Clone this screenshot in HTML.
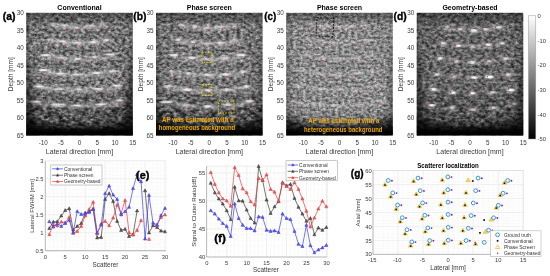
<!DOCTYPE html>
<html lang="en"><head><meta charset="utf-8"><title>Figure</title>
<style>
html,body{margin:0;padding:0;background:#fff;width:550px;height:276px;overflow:hidden}
svg{display:block;font-family:"Liberation Sans", sans-serif}
.t{fill:#3a3a3a}
.L{stroke:#000;stroke-width:.35;paint-order:stroke}
.ax{stroke:#8a8a8a;stroke-width:.6;fill:none}
.gr{stroke:#e9e9e9;stroke-width:.6;fill:none}
.gm{stroke:#f5f5f5;stroke-width:.5;fill:none}
</style></head><body>
<svg width="550" height="276" viewBox="0 0 550 276">
<rect width="550" height="276" fill="#fff"/>
<defs>

<filter id="sp0" x="0" y="0" width="100%" height="100%" color-interpolation-filters="sRGB">
<feTurbulence type="fractalNoise" baseFrequency="0.27 0.38" numOctaves="3" seed="3" result="n0"/>
<feGaussianBlur in="n0" stdDeviation="0.5 0.4" result="n"/>
<feColorMatrix in="n" type="matrix" values="0.88 0 0 0 0.010  0.88 0 0 0 0.010  0.88 0 0 0 0.010  0 0 0 0 1"/>
</filter>
<filter id="sp1" x="0" y="0" width="100%" height="100%" color-interpolation-filters="sRGB">
<feTurbulence type="fractalNoise" baseFrequency="0.27 0.38" numOctaves="3" seed="11" result="n0"/>
<feGaussianBlur in="n0" stdDeviation="0.5 0.4" result="n"/>
<feColorMatrix in="n" type="matrix" values="0.85 0 0 0 0.025  0.85 0 0 0 0.025  0.85 0 0 0 0.025  0 0 0 0 1"/>
</filter>
<filter id="sp2" x="0" y="0" width="100%" height="100%" color-interpolation-filters="sRGB">
<feTurbulence type="fractalNoise" baseFrequency="0.31 0.43" numOctaves="3" seed="23" result="n0"/>
<feGaussianBlur in="n0" stdDeviation="0.5 0.4" result="n"/>
<feColorMatrix in="n" type="matrix" values="0.8 0 0 0 0.130  0.8 0 0 0 0.130  0.8 0 0 0 0.130  0 0 0 0 1"/>
</filter>
<filter id="sp3" x="0" y="0" width="100%" height="100%" color-interpolation-filters="sRGB">
<feTurbulence type="fractalNoise" baseFrequency="0.27 0.38" numOctaves="3" seed="37" result="n0"/>
<feGaussianBlur in="n0" stdDeviation="0.5 0.4" result="n"/>
<feColorMatrix in="n" type="matrix" values="0.75 0 0 0 0.010  0.75 0 0 0 0.010  0.75 0 0 0 0.010  0 0 0 0 1"/>
</filter>
<filter id="dk" x="0" y="0" width="100%" height="100%" color-interpolation-filters="sRGB">
<feTurbulence type="fractalNoise" baseFrequency="0.17 0.26" numOctaves="2" seed="7"/>
<feColorMatrix type="matrix" values="0 0 0 0 0  0 0 0 0 0  0 0 0 0 0  3.0 0 0 0 -1.2"/>
</filter>
<linearGradient id="dkg0" x1="0" y1="0" x2="0" y2="1">
<stop offset="0" stop-color="#fff" stop-opacity="0"/><stop offset="0.6" stop-color="#fff" stop-opacity="0"/>
<stop offset="0.78" stop-color="#fff" stop-opacity="0.7"/><stop offset="1" stop-color="#fff" stop-opacity="0.7"/></linearGradient>
<linearGradient id="dkg2" x1="0" y1="0" x2="0" y2="1">
<stop offset="0" stop-color="#fff" stop-opacity="0"/><stop offset="0.8" stop-color="#fff" stop-opacity="0"/>
<stop offset="0.92" stop-color="#fff" stop-opacity="0.6"/><stop offset="1" stop-color="#fff" stop-opacity="0.8"/></linearGradient>
<linearGradient id="dkg3" x1="0" y1="0" x2="0" y2="1">
<stop offset="0" stop-color="#fff" stop-opacity="0"/><stop offset="0.6" stop-color="#fff" stop-opacity="0"/>
<stop offset="0.78" stop-color="#fff" stop-opacity="0.55"/><stop offset="1" stop-color="#fff" stop-opacity="0.7"/></linearGradient>
<filter id="b1" x="-50%" y="-200%" width="200%" height="500%"><feGaussianBlur stdDeviation="1.5 0.6"/></filter>
<filter id="b2" x="-50%" y="-200%" width="200%" height="500%"><feGaussianBlur stdDeviation="1.0 0.65"/></filter>
<filter id="b4" x="-50%" y="-100%" width="200%" height="300%"><feGaussianBlur stdDeviation="2.5 1.5"/></filter>
<filter id="b5" x="-50%" y="-200%" width="200%" height="500%"><feGaussianBlur stdDeviation="1.2 0.7"/></filter>
<filter id="b3" x="-20%" y="-20%" width="140%" height="140%"><feGaussianBlur stdDeviation="3"/></filter>
<linearGradient id="cb" x1="0" y1="0" x2="0" y2="1"><stop offset="0" stop-color="#fff"/><stop offset="1" stop-color="#000"/></linearGradient>
<linearGradient id="fadeB" x1="0" y1="0" x2="0" y2="1">
<stop offset="0" stop-color="#000" stop-opacity="0"/><stop offset="0.87" stop-color="#000" stop-opacity="0"/>
<stop offset="0.925" stop-color="#000" stop-opacity="0.3"/><stop offset="0.955" stop-color="#000" stop-opacity="0.8"/><stop offset="0.98" stop-color="#000" stop-opacity="0.97"/><stop offset="1" stop-color="#000" stop-opacity="1"/></linearGradient>
<linearGradient id="fadeT" x1="0" y1="0" x2="0" y2="1">
<stop offset="0" stop-color="#000" stop-opacity="0.34"/><stop offset="0.05" stop-color="#000" stop-opacity="0.22"/><stop offset="0.1" stop-color="#000" stop-opacity="0"/></linearGradient>
<linearGradient id="fadeL" x1="0" y1="0" x2="1" y2="0">
<stop offset="0" stop-color="#000" stop-opacity="0.2"/><stop offset="0.06" stop-color="#000" stop-opacity="0"/>
<stop offset="0.94" stop-color="#000" stop-opacity="0"/><stop offset="1" stop-color="#000" stop-opacity="0.2"/></linearGradient>

<clipPath id="cp0"><rect x="26.2" y="12.8" width="106.6" height="122.7"/></clipPath>
<clipPath id="cp1"><rect x="156.0" y="12.8" width="106.6" height="122.7"/></clipPath>
<clipPath id="cp2"><rect x="286.2" y="12.8" width="106.6" height="122.7"/></clipPath>
<clipPath id="cp3"><rect x="416.7" y="12.8" width="106.6" height="122.7"/></clipPath>
</defs>
<g clip-path="url(#cp0)">
<rect x="26.2" y="12.8" width="106.6" height="122.7" fill="#666" filter="url(#sp0)"/>
<mask id="mk0" maskUnits="userSpaceOnUse" x="26.2" y="12.8" width="106.6" height="122.7"><rect x="26.2" y="12.8" width="106.6" height="122.7" fill="url(#dkg0)"/></mask>
<g mask="url(#mk0)"><rect x="26.2" y="12.8" width="106.6" height="122.7" fill="#000" filter="url(#dk)"/><rect x="26.2" y="12.8" width="106.6" height="122.7" fill="#000" opacity="0.06"/></g>
<g filter="url(#b4)" fill="none" stroke="#fff" stroke-width="5" stroke-linecap="round" opacity="0.32">
<polyline points="34.7,102.7 57.3,105.5 79.5,106.6 102.1,105.5 123.9,101.6"/>
<polyline points="38.1,86.9 58.8,89.7 79.5,90.8 99.8,89.7 120.2,86.9"/>
<polyline points="41.5,71.7 60.3,74.3 79.5,75.4 98.0,74.3 116.8,71.7"/>
<polyline points="44.6,55.7 61.9,58.5 79.5,59.6 96.8,58.5 113.8,55.7"/>
<polyline points="48.4,40.7 63.8,42.8 79.5,43.8 94.9,42.8 109.6,40.7"/>
<polyline points="52.2,24.9 65.7,27.0 79.5,28.0 93.1,27.0 106.6,24.9"/>
</g>
<g filter="url(#b1)" fill="#fff" opacity="0.86">
<ellipse cx="34.9" cy="101.6" rx="6.3" ry="1.1" opacity="0.87"/>
<ellipse cx="57.6" cy="104.4" rx="6.4" ry="1.1" opacity="0.79"/>
<ellipse cx="77.0" cy="105.5" rx="4.1" ry="1.1" opacity="0.97"/>
<ellipse cx="100.4" cy="104.3" rx="4.9" ry="1.1" opacity="0.90"/>
<ellipse cx="119.2" cy="100.3" rx="4.6" ry="1.1" opacity="0.71"/>
<ellipse cx="39.2" cy="86.5" rx="4.1" ry="1.1" opacity="0.98"/>
<ellipse cx="58.6" cy="89.2" rx="6.0" ry="1.1" opacity="0.62"/>
<ellipse cx="78.4" cy="89.3" rx="3.5" ry="1.1" opacity="0.73"/>
<ellipse cx="97.8" cy="88.8" rx="4.1" ry="1.1" opacity="0.93"/>
<ellipse cx="117.4" cy="85.6" rx="4.8" ry="1.1" opacity="0.84"/>
<ellipse cx="43.1" cy="70.2" rx="4.7" ry="1.1" opacity="0.99"/>
<ellipse cx="60.1" cy="73.6" rx="5.3" ry="1.1" opacity="0.78"/>
<ellipse cx="77.5" cy="74.5" rx="4.6" ry="1.1" opacity="0.70"/>
<ellipse cx="96.3" cy="73.1" rx="4.5" ry="1.1" opacity="0.89"/>
<ellipse cx="113.9" cy="71.1" rx="5.0" ry="1.1" opacity="0.66"/>
<ellipse cx="45.9" cy="55.2" rx="4.6" ry="1.1" opacity="0.90"/>
<ellipse cx="61.5" cy="57.5" rx="4.2" ry="1.1" opacity="0.62"/>
<ellipse cx="78.4" cy="59.0" rx="3.0" ry="1.1" opacity="0.89"/>
<ellipse cx="94.8" cy="57.1" rx="2.7" ry="1.1" opacity="0.82"/>
<ellipse cx="109.7" cy="54.5" rx="4.4" ry="1.1" opacity="0.84"/>
<ellipse cx="49.2" cy="39.7" rx="3.0" ry="1.1" opacity="0.56"/>
<ellipse cx="62.3" cy="41.4" rx="3.6" ry="1.1" opacity="0.87"/>
<ellipse cx="77.3" cy="42.7" rx="4.8" ry="1.1" opacity="0.73"/>
<ellipse cx="93.1" cy="41.9" rx="4.0" ry="1.1" opacity="0.76"/>
<ellipse cx="106.5" cy="39.9" rx="2.5" ry="1.1" opacity="0.91"/>
<ellipse cx="53.1" cy="23.3" rx="2.1" ry="1.1" opacity="0.66"/>
<ellipse cx="64.0" cy="25.5" rx="3.4" ry="1.1" opacity="0.61"/>
<ellipse cx="77.0" cy="27.6" rx="2.7" ry="1.1" opacity="0.79"/>
<ellipse cx="90.7" cy="25.8" rx="2.9" ry="1.1" opacity="0.64"/>
<ellipse cx="103.8" cy="23.6" rx="1.9" ry="1.1" opacity="0.64"/>
</g>
<rect x="26.2" y="12.8" width="106.6" height="122.7" fill="url(#fadeL)"/>
<rect x="26.2" y="12.8" width="106.6" height="122.7" fill="url(#fadeB)"/>
<rect x="26.2" y="12.8" width="106.6" height="122.7" fill="url(#fadeT)"/>
<path d="M21.2,113.5 Q79.5,141.5 137.79999999999998,113.5 V141.5 H21.2Z" fill="#000" opacity="0.5" filter="url(#b3)"/>
<path d="M23.2,52.8 h3.5 L39.2,138.5 H23.2Z M135.79999999999998,52.8 h-3.5 L119.79999999999998,138.5 H135.79999999999998Z" fill="#000" opacity="0.45" filter="url(#b3)"/>
<g fill="#cc2035" opacity="0.8">
<circle cx="37.2" cy="105.2" r="0.7"/>
<circle cx="58.5" cy="108.0" r="0.7"/>
<circle cx="79.5" cy="109.1" r="0.7"/>
<circle cx="100.8" cy="108.0" r="0.7"/>
<circle cx="121.4" cy="104.1" r="0.7"/>
<circle cx="40.4" cy="89.4" r="0.7"/>
<circle cx="60.0" cy="92.2" r="0.7"/>
<circle cx="79.5" cy="93.3" r="0.7"/>
<circle cx="98.7" cy="92.2" r="0.7"/>
<circle cx="117.9" cy="89.4" r="0.7"/>
<circle cx="43.6" cy="74.2" r="0.7"/>
<circle cx="61.4" cy="76.8" r="0.7"/>
<circle cx="79.5" cy="77.9" r="0.7"/>
<circle cx="96.9" cy="76.8" r="0.7"/>
<circle cx="114.7" cy="74.2" r="0.7"/>
<circle cx="46.6" cy="58.2" r="0.7"/>
<circle cx="62.9" cy="61.0" r="0.7"/>
<circle cx="79.5" cy="62.1" r="0.7"/>
<circle cx="95.8" cy="61.0" r="0.7"/>
<circle cx="111.8" cy="58.2" r="0.7"/>
<circle cx="50.1" cy="43.2" r="0.7"/>
<circle cx="64.7" cy="45.3" r="0.7"/>
<circle cx="79.5" cy="46.3" r="0.7"/>
<circle cx="94.1" cy="45.3" r="0.7"/>
<circle cx="107.9" cy="43.2" r="0.7"/>
<circle cx="53.7" cy="27.4" r="0.7"/>
<circle cx="66.5" cy="29.5" r="0.7"/>
<circle cx="79.5" cy="30.5" r="0.7"/>
<circle cx="92.3" cy="29.5" r="0.7"/>
<circle cx="105.1" cy="27.4" r="0.7"/>
</g>
</g>
<text x="79.5" y="9.6" text-anchor="middle" font-size="7" font-weight="bold" fill="#000">Conventional</text>
<text x="2.8" y="20.4" class="L" font-size="11" font-weight="bold" fill="#000" textLength="12.8" lengthAdjust="spacingAndGlyphs">(a)</text>
<text class="t" x="23.8" y="15.1" text-anchor="end" font-size="6.3">30</text>
<text class="t" x="23.8" y="32.6" text-anchor="end" font-size="6.3">35</text>
<text class="t" x="23.8" y="50.2" text-anchor="end" font-size="6.3">40</text>
<text class="t" x="23.8" y="67.7" text-anchor="end" font-size="6.3">45</text>
<text class="t" x="23.8" y="85.2" text-anchor="end" font-size="6.3">50</text>
<text class="t" x="23.8" y="102.7" text-anchor="end" font-size="6.3">55</text>
<text class="t" x="23.8" y="120.3" text-anchor="end" font-size="6.3">60</text>
<text class="t" x="23.8" y="137.8" text-anchor="end" font-size="6.3">65</text>
<text class="t" x="43.2" y="145.1" text-anchor="middle" font-size="6.3">-10</text>
<text class="t" x="60.9" y="145.1" text-anchor="middle" font-size="6.3">-5</text>
<text class="t" x="79.5" y="145.1" text-anchor="middle" font-size="6.3">0</text>
<text class="t" x="97.3" y="145.1" text-anchor="middle" font-size="6.3">5</text>
<text class="t" x="115.0" y="145.1" text-anchor="middle" font-size="6.3">10</text>
<text class="t" x="132.8" y="145.1" text-anchor="middle" font-size="6.3">15</text>
<text class="t" x="79.5" y="153.6" text-anchor="middle" font-size="7">Lateral direction [mm]</text>
<text class="t" transform="translate(12.7,74.2) rotate(-90)" text-anchor="middle" font-size="6.6">Depth [mm]</text>
<g clip-path="url(#cp1)">
<rect x="156.0" y="12.8" width="106.6" height="122.7" fill="#666" filter="url(#sp1)"/>
<mask id="mk1" maskUnits="userSpaceOnUse" x="156.0" y="12.8" width="106.6" height="122.7"><rect x="156.0" y="12.8" width="106.6" height="122.7" fill="url(#dkg0)"/></mask>
<g mask="url(#mk1)"><rect x="156.0" y="12.8" width="106.6" height="122.7" fill="#000" filter="url(#dk)"/><rect x="156.0" y="12.8" width="106.6" height="122.7" fill="#000" opacity="0.06"/></g>
<g filter="url(#b4)" fill="none" stroke="#fff" stroke-width="5" stroke-linecap="round" opacity="0.3">
<polyline points="164.5,103.2 187.1,106.0 209.3,107.0 231.9,106.0 253.7,102.1"/>
<polyline points="167.9,87.4 188.6,90.2 209.3,91.2 229.6,90.2 250.0,87.4"/>
<polyline points="171.3,72.1 190.1,74.8 209.3,75.8 227.8,74.8 246.6,72.1"/>
<polyline points="174.4,56.2 191.7,59.0 209.3,60.0 226.6,59.0 243.6,56.2"/>
<polyline points="178.2,41.1 193.6,43.2 209.3,44.3 224.7,43.2 239.4,41.1"/>
<polyline points="182.0,25.3 195.5,27.4 209.3,28.5 222.9,27.4 236.4,25.3"/>
</g>
<g filter="url(#b5)" fill="#fff" opacity="0.8">
<ellipse cx="165.7" cy="101.9" rx="6.2" ry="1.4" opacity="0.97"/>
<ellipse cx="186.8" cy="105.3" rx="3.9" ry="1.4" opacity="0.65"/>
<ellipse cx="207.3" cy="106.4" rx="3.9" ry="1.4" opacity="0.99"/>
<ellipse cx="228.1" cy="104.7" rx="3.6" ry="1.4" opacity="0.90"/>
<ellipse cx="249.4" cy="101.2" rx="4.3" ry="1.4" opacity="0.84"/>
<ellipse cx="168.5" cy="86.2" rx="4.1" ry="1.4" opacity="0.69"/>
<ellipse cx="187.3" cy="89.7" rx="4.8" ry="1.4" opacity="0.85"/>
<ellipse cx="208.7" cy="90.3" rx="3.9" ry="1.4" opacity="0.74"/>
<ellipse cx="226.8" cy="89.5" rx="2.8" ry="1.4" opacity="0.76"/>
<ellipse cx="246.3" cy="86.3" rx="2.9" ry="1.4" opacity="0.87"/>
<ellipse cx="170.7" cy="71.4" rx="2.8" ry="1.4" opacity="0.57"/>
<ellipse cx="188.9" cy="73.4" rx="2.8" ry="1.4" opacity="0.86"/>
<ellipse cx="208.3" cy="74.8" rx="4.3" ry="1.4" opacity="0.76"/>
<ellipse cx="225.2" cy="74.4" rx="3.2" ry="1.4" opacity="0.94"/>
<ellipse cx="243.4" cy="71.5" rx="2.3" ry="1.4" opacity="0.59"/>
<ellipse cx="173.8" cy="55.1" rx="4.6" ry="1.4" opacity="0.94"/>
<ellipse cx="192.1" cy="57.7" rx="3.9" ry="1.4" opacity="0.90"/>
<ellipse cx="208.5" cy="59.5" rx="2.2" ry="1.4" opacity="0.63"/>
<ellipse cx="224.8" cy="58.4" rx="4.5" ry="1.4" opacity="0.75"/>
<ellipse cx="241.1" cy="54.9" rx="4.7" ry="1.4" opacity="0.95"/>
<ellipse cx="178.1" cy="39.7" rx="2.9" ry="1.4" opacity="0.86"/>
<ellipse cx="192.7" cy="41.8" rx="2.1" ry="1.4" opacity="0.92"/>
<ellipse cx="206.8" cy="43.9" rx="2.1" ry="1.4" opacity="0.64"/>
<ellipse cx="221.4" cy="42.9" rx="4.0" ry="1.4" opacity="0.69"/>
<ellipse cx="235.3" cy="40.4" rx="4.0" ry="1.4" opacity="0.56"/>
<ellipse cx="182.4" cy="24.9" rx="2.2" ry="1.4" opacity="0.81"/>
<ellipse cx="195.5" cy="26.3" rx="1.6" ry="1.4" opacity="0.85"/>
<ellipse cx="207.9" cy="27.7" rx="1.8" ry="1.4" opacity="0.97"/>
<ellipse cx="220.1" cy="26.8" rx="3.5" ry="1.4" opacity="0.73"/>
<ellipse cx="232.3" cy="24.1" rx="1.0" ry="1.4" opacity="0.62"/>
</g>
<rect x="156.0" y="12.8" width="106.6" height="122.7" fill="url(#fadeL)"/>
<rect x="156.0" y="12.8" width="106.6" height="122.7" fill="url(#fadeB)"/>
<rect x="156.0" y="12.8" width="106.6" height="122.7" fill="url(#fadeT)"/>
<path d="M151.0,113.5 Q209.3,141.5 267.6,113.5 V141.5 H151.0Z" fill="#000" opacity="0.5" filter="url(#b3)"/>
<path d="M153.0,52.8 h3.5 L169.0,138.5 H153.0Z M265.6,52.8 h-3.5 L249.60000000000002,138.5 H265.6Z" fill="#000" opacity="0.15" filter="url(#b3)"/>
<g fill="#cc2035" opacity="0.8">
<circle cx="167.0" cy="105.2" r="0.7"/>
<circle cx="188.3" cy="108.0" r="0.7"/>
<circle cx="209.3" cy="109.1" r="0.7"/>
<circle cx="230.6" cy="108.0" r="0.7"/>
<circle cx="251.2" cy="104.1" r="0.7"/>
<circle cx="170.2" cy="89.4" r="0.7"/>
<circle cx="189.8" cy="92.2" r="0.7"/>
<circle cx="209.3" cy="93.3" r="0.7"/>
<circle cx="228.5" cy="92.2" r="0.7"/>
<circle cx="247.7" cy="89.4" r="0.7"/>
<circle cx="173.4" cy="74.2" r="0.7"/>
<circle cx="191.2" cy="76.8" r="0.7"/>
<circle cx="209.3" cy="77.9" r="0.7"/>
<circle cx="226.7" cy="76.8" r="0.7"/>
<circle cx="244.5" cy="74.2" r="0.7"/>
<circle cx="176.4" cy="58.2" r="0.7"/>
<circle cx="192.7" cy="61.0" r="0.7"/>
<circle cx="209.3" cy="62.1" r="0.7"/>
<circle cx="225.6" cy="61.0" r="0.7"/>
<circle cx="241.6" cy="58.2" r="0.7"/>
<circle cx="179.9" cy="43.2" r="0.7"/>
<circle cx="194.5" cy="45.3" r="0.7"/>
<circle cx="209.3" cy="46.3" r="0.7"/>
<circle cx="223.9" cy="45.3" r="0.7"/>
<circle cx="237.7" cy="43.2" r="0.7"/>
<circle cx="183.5" cy="27.4" r="0.7"/>
<circle cx="196.3" cy="29.5" r="0.7"/>
<circle cx="209.3" cy="30.5" r="0.7"/>
<circle cx="222.1" cy="29.5" r="0.7"/>
<circle cx="234.9" cy="27.4" r="0.7"/>
</g>
</g>
<text x="209.3" y="9.6" text-anchor="middle" font-size="7" font-weight="bold" fill="#000">Phase screen</text>
<text x="133.3" y="20.4" class="L" font-size="11" font-weight="bold" fill="#000" textLength="13.2" lengthAdjust="spacingAndGlyphs">(b)</text>
<text class="t" x="153.6" y="15.1" text-anchor="end" font-size="6.3">30</text>
<text class="t" x="153.6" y="32.6" text-anchor="end" font-size="6.3">35</text>
<text class="t" x="153.6" y="50.2" text-anchor="end" font-size="6.3">40</text>
<text class="t" x="153.6" y="67.7" text-anchor="end" font-size="6.3">45</text>
<text class="t" x="153.6" y="85.2" text-anchor="end" font-size="6.3">50</text>
<text class="t" x="153.6" y="102.7" text-anchor="end" font-size="6.3">55</text>
<text class="t" x="153.6" y="120.3" text-anchor="end" font-size="6.3">60</text>
<text class="t" x="153.6" y="137.8" text-anchor="end" font-size="6.3">65</text>
<text class="t" x="173.0" y="145.1" text-anchor="middle" font-size="6.3">-10</text>
<text class="t" x="190.7" y="145.1" text-anchor="middle" font-size="6.3">-5</text>
<text class="t" x="209.3" y="145.1" text-anchor="middle" font-size="6.3">0</text>
<text class="t" x="227.1" y="145.1" text-anchor="middle" font-size="6.3">5</text>
<text class="t" x="244.8" y="145.1" text-anchor="middle" font-size="6.3">10</text>
<text class="t" x="262.6" y="145.1" text-anchor="middle" font-size="6.3">15</text>
<text class="t" x="209.3" y="153.6" text-anchor="middle" font-size="7">Lateral direction [mm]</text>
<text class="t" transform="translate(142.5,74.2) rotate(-90)" text-anchor="middle" font-size="6.6">Depth [mm]</text>
<g clip-path="url(#cp2)">
<rect x="286.2" y="12.8" width="106.6" height="122.7" fill="#666" filter="url(#sp2)"/>
<mask id="mk2" maskUnits="userSpaceOnUse" x="286.2" y="12.8" width="106.6" height="122.7"><rect x="286.2" y="12.8" width="106.6" height="122.7" fill="url(#dkg2)"/></mask>
<g mask="url(#mk2)"><rect x="286.2" y="12.8" width="106.6" height="122.7" fill="#000" filter="url(#dk)"/><rect x="286.2" y="12.8" width="106.6" height="122.7" fill="#000" opacity="0.03"/></g>
<g filter="url(#b4)" fill="none" stroke="#fff" stroke-width="5" stroke-linecap="round" opacity="0.13">
<polyline points="294.7,102.7 317.3,105.5 339.5,106.6 362.1,105.5 383.9,101.6"/>
<polyline points="298.1,86.9 318.8,89.7 339.5,90.8 359.8,89.7 380.2,86.9"/>
<polyline points="301.5,71.7 320.3,74.3 339.5,75.4 358.0,74.3 376.8,71.7"/>
<polyline points="304.6,55.7 321.9,58.5 339.5,59.6 356.8,58.5 373.8,55.7"/>
<polyline points="308.4,40.7 323.8,42.8 339.5,43.8 354.9,42.8 369.6,40.7"/>
<polyline points="312.2,24.9 325.7,27.0 339.5,28.0 353.1,27.0 366.6,24.9"/>
</g>
<g filter="url(#b1)" fill="#fff" opacity="0.28">
<ellipse cx="294.9" cy="101.8" rx="6.0" ry="1.6" opacity="0.87"/>
<ellipse cx="317.3" cy="104.4" rx="7.4" ry="1.6" opacity="0.80"/>
<ellipse cx="336.9" cy="105.6" rx="7.4" ry="1.6" opacity="0.78"/>
<ellipse cx="360.2" cy="104.8" rx="6.6" ry="1.6" opacity="0.65"/>
<ellipse cx="379.0" cy="101.0" rx="7.6" ry="1.6" opacity="0.82"/>
<ellipse cx="298.8" cy="85.9" rx="5.7" ry="1.6" opacity="0.79"/>
<ellipse cx="317.6" cy="88.9" rx="6.9" ry="1.6" opacity="0.85"/>
<ellipse cx="337.4" cy="89.3" rx="6.0" ry="1.6" opacity="0.86"/>
<ellipse cx="357.2" cy="89.0" rx="6.3" ry="1.6" opacity="0.73"/>
<ellipse cx="377.4" cy="85.5" rx="5.6" ry="1.6" opacity="0.81"/>
<ellipse cx="302.4" cy="70.6" rx="6.2" ry="1.6" opacity="0.75"/>
<ellipse cx="320.3" cy="73.8" rx="7.0" ry="1.6" opacity="0.84"/>
<ellipse cx="337.9" cy="74.9" rx="5.8" ry="1.6" opacity="0.83"/>
<ellipse cx="356.3" cy="73.5" rx="5.7" ry="1.6" opacity="0.88"/>
<ellipse cx="373.4" cy="71.2" rx="6.4" ry="1.6" opacity="0.79"/>
<ellipse cx="306.2" cy="54.8" rx="5.2" ry="1.6" opacity="0.97"/>
<ellipse cx="322.5" cy="57.1" rx="4.2" ry="1.6" opacity="0.94"/>
<ellipse cx="338.9" cy="58.4" rx="4.8" ry="1.6" opacity="0.86"/>
<ellipse cx="355.4" cy="57.2" rx="5.3" ry="1.6" opacity="0.85"/>
<ellipse cx="369.7" cy="54.6" rx="4.4" ry="1.6" opacity="0.77"/>
<ellipse cx="308.0" cy="39.1" rx="4.7" ry="1.6" opacity="0.62"/>
<ellipse cx="322.3" cy="41.3" rx="4.8" ry="1.6" opacity="0.69"/>
<ellipse cx="338.5" cy="42.7" rx="4.2" ry="1.6" opacity="0.63"/>
<ellipse cx="352.1" cy="42.0" rx="4.1" ry="1.6" opacity="0.76"/>
<ellipse cx="367.2" cy="40.0" rx="4.9" ry="1.6" opacity="0.93"/>
<ellipse cx="312.6" cy="23.5" rx="3.3" ry="1.6" opacity="0.63"/>
<ellipse cx="325.7" cy="25.8" rx="5.5" ry="1.6" opacity="0.99"/>
<ellipse cx="339.0" cy="27.0" rx="3.0" ry="1.6" opacity="0.67"/>
<ellipse cx="350.1" cy="26.2" rx="5.1" ry="1.6" opacity="0.96"/>
<ellipse cx="364.1" cy="24.4" rx="4.9" ry="1.6" opacity="0.76"/>
</g>
<rect x="286.2" y="12.8" width="106.6" height="122.7" fill="url(#fadeL)"/>
<rect x="286.2" y="12.8" width="106.6" height="122.7" fill="url(#fadeB)"/>
<rect x="286.2" y="12.8" width="106.6" height="122.7" fill="url(#fadeT)"/>
<path d="M281.2,113.5 Q339.5,141.5 397.79999999999995,113.5 V141.5 H281.2Z" fill="#000" opacity="0.5" filter="url(#b3)"/>
<path d="M283.2,52.8 h3.5 L299.2,138.5 H283.2Z M395.79999999999995,52.8 h-3.5 L379.79999999999995,138.5 H395.79999999999995Z" fill="#000" opacity="0.1" filter="url(#b3)"/>
<g fill="#cc2035" opacity="0.8">
<circle cx="297.2" cy="105.2" r="0.7"/>
<circle cx="318.5" cy="108.0" r="0.7"/>
<circle cx="339.5" cy="109.1" r="0.7"/>
<circle cx="360.8" cy="108.0" r="0.7"/>
<circle cx="381.4" cy="104.1" r="0.7"/>
<circle cx="300.4" cy="89.4" r="0.7"/>
<circle cx="320.0" cy="92.2" r="0.7"/>
<circle cx="339.5" cy="93.3" r="0.7"/>
<circle cx="358.7" cy="92.2" r="0.7"/>
<circle cx="377.9" cy="89.4" r="0.7"/>
<circle cx="303.6" cy="74.2" r="0.7"/>
<circle cx="321.4" cy="76.8" r="0.7"/>
<circle cx="339.5" cy="77.9" r="0.7"/>
<circle cx="356.9" cy="76.8" r="0.7"/>
<circle cx="374.7" cy="74.2" r="0.7"/>
<circle cx="306.6" cy="58.2" r="0.7"/>
<circle cx="322.9" cy="61.0" r="0.7"/>
<circle cx="339.5" cy="62.1" r="0.7"/>
<circle cx="355.8" cy="61.0" r="0.7"/>
<circle cx="371.8" cy="58.2" r="0.7"/>
<circle cx="310.1" cy="43.2" r="0.7"/>
<circle cx="324.7" cy="45.3" r="0.7"/>
<circle cx="339.5" cy="46.3" r="0.7"/>
<circle cx="354.1" cy="45.3" r="0.7"/>
<circle cx="367.9" cy="43.2" r="0.7"/>
<circle cx="313.7" cy="27.4" r="0.7"/>
<circle cx="326.5" cy="29.5" r="0.7"/>
<circle cx="339.5" cy="30.5" r="0.7"/>
<circle cx="352.3" cy="29.5" r="0.7"/>
<circle cx="365.1" cy="27.4" r="0.7"/>
</g>
</g>
<text x="339.5" y="9.6" text-anchor="middle" font-size="7" font-weight="bold" fill="#000">Phase screen</text>
<text x="264.3" y="20.4" class="L" font-size="11" font-weight="bold" fill="#000" textLength="12.0" lengthAdjust="spacingAndGlyphs">(c)</text>
<text class="t" x="283.8" y="15.1" text-anchor="end" font-size="6.3">30</text>
<text class="t" x="283.8" y="32.6" text-anchor="end" font-size="6.3">35</text>
<text class="t" x="283.8" y="50.2" text-anchor="end" font-size="6.3">40</text>
<text class="t" x="283.8" y="67.7" text-anchor="end" font-size="6.3">45</text>
<text class="t" x="283.8" y="85.2" text-anchor="end" font-size="6.3">50</text>
<text class="t" x="283.8" y="102.7" text-anchor="end" font-size="6.3">55</text>
<text class="t" x="283.8" y="120.3" text-anchor="end" font-size="6.3">60</text>
<text class="t" x="283.8" y="137.8" text-anchor="end" font-size="6.3">65</text>
<text class="t" x="303.2" y="145.1" text-anchor="middle" font-size="6.3">-10</text>
<text class="t" x="320.9" y="145.1" text-anchor="middle" font-size="6.3">-5</text>
<text class="t" x="339.5" y="145.1" text-anchor="middle" font-size="6.3">0</text>
<text class="t" x="357.3" y="145.1" text-anchor="middle" font-size="6.3">5</text>
<text class="t" x="375.0" y="145.1" text-anchor="middle" font-size="6.3">10</text>
<text class="t" x="392.8" y="145.1" text-anchor="middle" font-size="6.3">15</text>
<text class="t" x="339.5" y="153.6" text-anchor="middle" font-size="7">Lateral direction [mm]</text>
<text class="t" transform="translate(272.7,74.2) rotate(-90)" text-anchor="middle" font-size="6.6">Depth [mm]</text>
<g clip-path="url(#cp3)">
<rect x="416.7" y="12.8" width="106.6" height="122.7" fill="#666" filter="url(#sp3)"/>
<mask id="mk3" maskUnits="userSpaceOnUse" x="416.7" y="12.8" width="106.6" height="122.7"><rect x="416.7" y="12.8" width="106.6" height="122.7" fill="url(#dkg3)"/></mask>
<g mask="url(#mk3)"><rect x="416.7" y="12.8" width="106.6" height="122.7" fill="#000" filter="url(#dk)"/><rect x="416.7" y="12.8" width="106.6" height="122.7" fill="#000" opacity="0.03"/></g>
<g filter="url(#b4)" fill="none" stroke="#fff" stroke-width="5" stroke-linecap="round" opacity="0.3">
<path d="M426.7,105.4h7"/>
<path d="M448.0,108.2h7"/>
<path d="M469.0,109.3h7"/>
<path d="M490.3,108.2h7"/>
<path d="M510.9,104.3h7"/>
<path d="M429.9,89.6h7"/>
<path d="M449.5,92.4h7"/>
<path d="M469.0,93.5h7"/>
<path d="M488.2,92.4h7"/>
<path d="M507.4,89.6h7"/>
<path d="M433.1,74.4h7"/>
<path d="M450.9,77.0h7"/>
<path d="M469.0,78.1h7"/>
<path d="M486.4,77.0h7"/>
<path d="M504.2,74.4h7"/>
<path d="M436.1,58.4h7"/>
<path d="M452.4,61.2h7"/>
<path d="M469.0,62.3h7"/>
<path d="M485.3,61.2h7"/>
<path d="M501.3,58.4h7"/>
<path d="M439.6,43.4h7"/>
<path d="M454.2,45.5h7"/>
<path d="M469.0,46.5h7"/>
<path d="M483.6,45.5h7"/>
<path d="M497.4,43.4h7"/>
<path d="M443.2,27.6h7"/>
<path d="M456.0,29.7h7"/>
<path d="M469.0,30.7h7"/>
<path d="M481.8,29.7h7"/>
<path d="M494.6,27.6h7"/>
</g>
<g filter="url(#b2)" fill="#fff" opacity="1.0">
<ellipse cx="431.9" cy="105.2" rx="3.2" ry="1.3" opacity="0.88"/>
<ellipse cx="451.4" cy="107.6" rx="2.8" ry="1.3" opacity="0.60"/>
<ellipse cx="472.7" cy="109.6" rx="3.6" ry="1.3" opacity="0.60"/>
<ellipse cx="493.3" cy="107.8" rx="3.5" ry="1.3" opacity="0.56"/>
<ellipse cx="514.3" cy="103.8" rx="1.4" ry="1.3" opacity="0.79"/>
<ellipse cx="433.2" cy="89.4" rx="3.2" ry="1.3" opacity="0.88"/>
<ellipse cx="453.3" cy="92.7" rx="2.7" ry="1.3" opacity="0.92"/>
<ellipse cx="472.4" cy="93.2" rx="2.7" ry="1.3" opacity="0.98"/>
<ellipse cx="492.5" cy="92.3" rx="1.8" ry="1.3" opacity="0.68"/>
<ellipse cx="510.7" cy="90.1" rx="3.7" ry="1.3" opacity="0.95"/>
<ellipse cx="437.2" cy="74.5" rx="1.9" ry="1.3" opacity="0.77"/>
<ellipse cx="454.0" cy="76.8" rx="1.8" ry="1.3" opacity="0.59"/>
<ellipse cx="474.0" cy="77.5" rx="3.4" ry="1.3" opacity="0.86"/>
<ellipse cx="489.4" cy="76.9" rx="4.0" ry="1.3" opacity="0.99"/>
<ellipse cx="508.3" cy="74.6" rx="3.1" ry="1.3" opacity="0.68"/>
<ellipse cx="440.2" cy="58.4" rx="2.2" ry="1.3" opacity="0.92"/>
<ellipse cx="456.3" cy="61.4" rx="1.2" ry="1.3" opacity="0.75"/>
<ellipse cx="471.9" cy="62.4" rx="3.6" ry="1.3" opacity="0.79"/>
<ellipse cx="489.5" cy="61.3" rx="1.7" ry="1.3" opacity="0.72"/>
<ellipse cx="505.5" cy="58.5" rx="2.1" ry="1.3" opacity="0.76"/>
<ellipse cx="443.2" cy="43.3" rx="3.0" ry="1.3" opacity="0.70"/>
<ellipse cx="458.7" cy="45.8" rx="2.6" ry="1.3" opacity="0.99"/>
<ellipse cx="472.5" cy="46.9" rx="1.5" ry="1.3" opacity="0.71"/>
<ellipse cx="488.3" cy="44.8" rx="2.8" ry="1.3" opacity="0.94"/>
<ellipse cx="502.5" cy="43.5" rx="2.0" ry="1.3" opacity="0.70"/>
<ellipse cx="447.6" cy="27.0" rx="1.1" ry="1.3" opacity="0.95"/>
<ellipse cx="460.3" cy="29.2" rx="2.3" ry="1.3" opacity="0.68"/>
<ellipse cx="473.9" cy="30.4" rx="3.2" ry="1.3" opacity="0.88"/>
<ellipse cx="485.4" cy="29.3" rx="2.6" ry="1.3" opacity="0.73"/>
<ellipse cx="498.8" cy="27.3" rx="3.4" ry="1.3" opacity="0.74"/>
</g>
<rect x="416.7" y="12.8" width="106.6" height="122.7" fill="url(#fadeL)"/>
<rect x="416.7" y="12.8" width="106.6" height="122.7" fill="url(#fadeB)"/>
<rect x="416.7" y="12.8" width="106.6" height="122.7" fill="url(#fadeT)"/>
<path d="M411.7,113.5 Q470.0,141.5 528.3,113.5 V141.5 H411.7Z" fill="#000" opacity="0.5" filter="url(#b3)"/>
<path d="M413.7,52.8 h3.5 L429.7,138.5 H413.7Z M526.3,52.8 h-3.5 L510.29999999999995,138.5 H526.3Z" fill="#000" opacity="0.35" filter="url(#b3)"/>
<g fill="#cc2035" opacity="0.8">
<circle cx="427.7" cy="105.2" r="0.7"/>
<circle cx="449.0" cy="108.0" r="0.7"/>
<circle cx="470.0" cy="109.1" r="0.7"/>
<circle cx="491.3" cy="108.0" r="0.7"/>
<circle cx="511.9" cy="104.1" r="0.7"/>
<circle cx="430.9" cy="89.4" r="0.7"/>
<circle cx="450.5" cy="92.2" r="0.7"/>
<circle cx="470.0" cy="93.3" r="0.7"/>
<circle cx="489.2" cy="92.2" r="0.7"/>
<circle cx="508.4" cy="89.4" r="0.7"/>
<circle cx="434.1" cy="74.2" r="0.7"/>
<circle cx="451.9" cy="76.8" r="0.7"/>
<circle cx="470.0" cy="77.9" r="0.7"/>
<circle cx="487.4" cy="76.8" r="0.7"/>
<circle cx="505.2" cy="74.2" r="0.7"/>
<circle cx="437.1" cy="58.2" r="0.7"/>
<circle cx="453.4" cy="61.0" r="0.7"/>
<circle cx="470.0" cy="62.1" r="0.7"/>
<circle cx="486.3" cy="61.0" r="0.7"/>
<circle cx="502.3" cy="58.2" r="0.7"/>
<circle cx="440.6" cy="43.2" r="0.7"/>
<circle cx="455.2" cy="45.3" r="0.7"/>
<circle cx="470.0" cy="46.3" r="0.7"/>
<circle cx="484.6" cy="45.3" r="0.7"/>
<circle cx="498.4" cy="43.2" r="0.7"/>
<circle cx="444.2" cy="27.4" r="0.7"/>
<circle cx="457.0" cy="29.5" r="0.7"/>
<circle cx="470.0" cy="30.5" r="0.7"/>
<circle cx="482.8" cy="29.5" r="0.7"/>
<circle cx="495.6" cy="27.4" r="0.7"/>
</g>
</g>
<text x="470.0" y="9.6" text-anchor="middle" font-size="7" font-weight="bold" fill="#000">Geometry-based</text>
<text x="393.5" y="20.4" class="L" font-size="11" font-weight="bold" fill="#000" textLength="13.2" lengthAdjust="spacingAndGlyphs">(d)</text>
<text class="t" x="414.3" y="15.1" text-anchor="end" font-size="6.3">30</text>
<text class="t" x="414.3" y="32.6" text-anchor="end" font-size="6.3">35</text>
<text class="t" x="414.3" y="50.2" text-anchor="end" font-size="6.3">40</text>
<text class="t" x="414.3" y="67.7" text-anchor="end" font-size="6.3">45</text>
<text class="t" x="414.3" y="85.2" text-anchor="end" font-size="6.3">50</text>
<text class="t" x="414.3" y="102.7" text-anchor="end" font-size="6.3">55</text>
<text class="t" x="414.3" y="120.3" text-anchor="end" font-size="6.3">60</text>
<text class="t" x="414.3" y="137.8" text-anchor="end" font-size="6.3">65</text>
<text class="t" x="433.7" y="145.1" text-anchor="middle" font-size="6.3">-10</text>
<text class="t" x="451.4" y="145.1" text-anchor="middle" font-size="6.3">-5</text>
<text class="t" x="470.0" y="145.1" text-anchor="middle" font-size="6.3">0</text>
<text class="t" x="487.8" y="145.1" text-anchor="middle" font-size="6.3">5</text>
<text class="t" x="505.5" y="145.1" text-anchor="middle" font-size="6.3">10</text>
<text class="t" x="523.3" y="145.1" text-anchor="middle" font-size="6.3">15</text>
<text class="t" x="470.0" y="153.6" text-anchor="middle" font-size="7">Lateral direction [mm]</text>
<text class="t" transform="translate(403.2,74.2) rotate(-90)" text-anchor="middle" font-size="6.6">Depth [mm]</text>
<rect x="202" y="52.4" width="9.8" height="10" fill="none" stroke="#e6d820" stroke-width="0.9" stroke-dasharray="1.6 1.3"/>
<rect x="202" y="84.5" width="9.8" height="11" fill="none" stroke="#e6d820" stroke-width="0.9" stroke-dasharray="1.6 1.3"/>
<rect x="218.4" y="101" width="15.6" height="12" fill="none" stroke="#e6d820" stroke-width="0.9" stroke-dasharray="1.6 1.3"/>
<rect x="316.5" y="18" width="17" height="18.4" fill="none" stroke="#000" stroke-width="0.75" stroke-dasharray="2 1.2" transform="rotate(3 325 27)"/>
<g font-size="6.9" font-weight="bold" fill="#eaa80c" text-anchor="middle">
<text x="197.8" y="122.4" textLength="71.6" lengthAdjust="spacingAndGlyphs">AP was estimated with a</text>
<text x="197" y="130.3" textLength="76.4" lengthAdjust="spacingAndGlyphs">homogeneous background</text>
<text x="343.8" y="123.4" textLength="71" lengthAdjust="spacingAndGlyphs">AP was estimated with a</text>
<text x="343.2" y="132.0" textLength="78.5" lengthAdjust="spacingAndGlyphs">heterogeneous background</text>
</g>
<rect x="528.4" y="15.8" width="7.4" height="123.2" fill="url(#cb)" stroke="#9a9a9a" stroke-width="0.5"/>
<text class="t" x="537.6" y="18.3" font-size="5.8">0</text>
<text class="t" x="537.6" y="42.9" font-size="5.8">-10</text>
<text class="t" x="537.6" y="67.4" font-size="5.8">-20</text>
<text class="t" x="537.6" y="92.0" font-size="5.8">-30</text>
<text class="t" x="537.6" y="116.5" font-size="5.8">-40</text>
<text class="t" x="537.6" y="141.0" font-size="5.8">-50</text>
<rect x="45.3" y="161.0" width="120.7" height="89.69999999999999" fill="#fff"/>
<path class="gm" d="M45.3,161.0V250.7M49.3,161.0V250.7M53.3,161.0V250.7M57.3,161.0V250.7M61.3,161.0V250.7M65.2,161.0V250.7M69.2,161.0V250.7M73.2,161.0V250.7M77.2,161.0V250.7M81.2,161.0V250.7M85.2,161.0V250.7M89.2,161.0V250.7M93.2,161.0V250.7M97.2,161.0V250.7M101.2,161.0V250.7M105.2,161.0V250.7M109.1,161.0V250.7M113.1,161.0V250.7M117.1,161.0V250.7M121.1,161.0V250.7M125.1,161.0V250.7M129.1,161.0V250.7M133.1,161.0V250.7M137.1,161.0V250.7M141.1,161.0V250.7M145.1,161.0V250.7M149.0,161.0V250.7M153.0,161.0V250.7M157.0,161.0V250.7M161.0,161.0V250.7M165.0,161.0V250.7"/>
<path class="gm" d="M45.3,250.7H166.0M45.3,247.1H166.0M45.3,243.5H166.0M45.3,239.9H166.0M45.3,236.3H166.0M45.3,232.7H166.0M45.3,229.1H166.0M45.3,225.5H166.0M45.3,221.9H166.0M45.3,218.3H166.0M45.3,214.7H166.0M45.3,211.1H166.0M45.3,207.5H166.0M45.3,203.9H166.0M45.3,200.3H166.0M45.3,196.7H166.0M45.3,193.1H166.0M45.3,189.5H166.0M45.3,185.9H166.0M45.3,182.3H166.0M45.3,178.7H166.0M45.3,175.1H166.0M45.3,171.5H166.0M45.3,167.9H166.0M45.3,164.3H166.0M45.3,160.7H166.0"/>
<path class="gr" d="M65.2,161.0V250.7M85.2,161.0V250.7M105.2,161.0V250.7M125.1,161.0V250.7M145.1,161.0V250.7M165.0,161.0V250.7"/>
<path class="gr" d="M45.3,250.7H166.0M45.3,232.7H166.0M45.3,214.7H166.0M45.3,196.7H166.0M45.3,178.7H166.0M45.3,160.7H166.0"/>
<path class="ax" d="M45.3,161.0V250.7H166.0"/>
<path d="M45.3,161.0H166.0V250.7" stroke="#ececec" stroke-width=".5" fill="none"/>
<text class="t" x="45.3" y="259.2" text-anchor="middle" font-size="5.8">0</text>
<text class="t" x="65.2" y="259.2" text-anchor="middle" font-size="5.8">5</text>
<text class="t" x="85.2" y="259.2" text-anchor="middle" font-size="5.8">10</text>
<text class="t" x="105.2" y="259.2" text-anchor="middle" font-size="5.8">15</text>
<text class="t" x="125.1" y="259.2" text-anchor="middle" font-size="5.8">20</text>
<text class="t" x="145.1" y="259.2" text-anchor="middle" font-size="5.8">25</text>
<text class="t" x="165.0" y="259.2" text-anchor="middle" font-size="5.8">30</text>
<text class="t" x="43.5" y="252.8" text-anchor="end" font-size="5.8">0.5</text>
<text class="t" x="43.5" y="234.8" text-anchor="end" font-size="5.8">1</text>
<text class="t" x="43.5" y="216.8" text-anchor="end" font-size="5.8">1.5</text>
<text class="t" x="43.5" y="198.8" text-anchor="end" font-size="5.8">2</text>
<text class="t" x="43.5" y="180.8" text-anchor="end" font-size="5.8">2.5</text>
<text class="t" x="43.5" y="162.8" text-anchor="end" font-size="5.8">3</text>
<text class="t" x="105.5" y="267.4" text-anchor="middle" font-size="6.4">Scatterer</text>
<text class="t" transform="translate(33.6,206) rotate(-90)" text-anchor="middle" font-size="6">Lateral FWHM [mm]</text>
<polyline fill="none" stroke="#3c3c3c" stroke-width="0.7" stroke-linejoin="round" points="49.3,228.4 53.3,221.9 57.3,221.5 61.3,215.8 65.2,210.4 69.2,208.6 73.2,229.8 77.2,226.2 81.2,223.3 85.2,212.9 89.2,211.5 93.2,208.9 97.2,237.7 101.2,237.4 105.2,199.2 109.1,193.5 113.1,201.4 117.1,221.2 121.1,230.2 125.1,229.1 129.1,236.3 133.1,234.5 137.1,210.7"/>
<polyline fill="none" stroke="#3c3c3c" stroke-width="0.7" stroke-linejoin="round" points="145.1,190.6 149.0,232.7 153.0,225.5 157.0,227.3 161.0,230.9 165.0,231.6"/>
<path d="M49.3,226.6 L50.8,229.6 L47.8,229.6Z" fill="#585858" stroke="#3c3c3c" stroke-width="0.55"/>
<path d="M53.3,220.2 L54.8,223.1 L51.7,223.1Z" fill="#585858" stroke="#3c3c3c" stroke-width="0.55"/>
<path d="M57.3,219.8 L58.8,222.7 L55.7,222.7Z" fill="#585858" stroke="#3c3c3c" stroke-width="0.55"/>
<path d="M61.3,214.0 L62.8,217.0 L59.7,217.0Z" fill="#585858" stroke="#3c3c3c" stroke-width="0.55"/>
<path d="M65.2,208.6 L66.8,211.6 L63.7,211.6Z" fill="#585858" stroke="#3c3c3c" stroke-width="0.55"/>
<path d="M69.2,206.8 L70.8,209.8 L67.7,209.8Z" fill="#585858" stroke="#3c3c3c" stroke-width="0.55"/>
<path d="M73.2,228.1 L74.8,231.0 L71.7,231.0Z" fill="#585858" stroke="#3c3c3c" stroke-width="0.55"/>
<path d="M77.2,224.5 L78.8,227.4 L75.7,227.4Z" fill="#585858" stroke="#3c3c3c" stroke-width="0.55"/>
<path d="M81.2,221.6 L82.8,224.5 L79.7,224.5Z" fill="#585858" stroke="#3c3c3c" stroke-width="0.55"/>
<path d="M85.2,211.2 L86.7,214.1 L83.7,214.1Z" fill="#585858" stroke="#3c3c3c" stroke-width="0.55"/>
<path d="M89.2,209.7 L90.7,212.6 L87.6,212.6Z" fill="#585858" stroke="#3c3c3c" stroke-width="0.55"/>
<path d="M93.2,207.2 L94.7,210.1 L91.6,210.1Z" fill="#585858" stroke="#3c3c3c" stroke-width="0.55"/>
<path d="M97.2,236.0 L98.7,238.9 L95.6,238.9Z" fill="#585858" stroke="#3c3c3c" stroke-width="0.55"/>
<path d="M101.2,235.6 L102.7,238.6 L99.6,238.6Z" fill="#585858" stroke="#3c3c3c" stroke-width="0.55"/>
<path d="M105.2,197.5 L106.7,200.4 L103.6,200.4Z" fill="#585858" stroke="#3c3c3c" stroke-width="0.55"/>
<path d="M109.1,191.7 L110.7,194.6 L107.6,194.6Z" fill="#585858" stroke="#3c3c3c" stroke-width="0.55"/>
<path d="M113.1,199.6 L114.7,202.6 L111.6,202.6Z" fill="#585858" stroke="#3c3c3c" stroke-width="0.55"/>
<path d="M117.1,219.4 L118.7,222.4 L115.6,222.4Z" fill="#585858" stroke="#3c3c3c" stroke-width="0.55"/>
<path d="M121.1,228.4 L122.7,231.4 L119.6,231.4Z" fill="#585858" stroke="#3c3c3c" stroke-width="0.55"/>
<path d="M125.1,227.4 L126.6,230.3 L123.6,230.3Z" fill="#585858" stroke="#3c3c3c" stroke-width="0.55"/>
<path d="M129.1,234.6 L130.6,237.5 L127.5,237.5Z" fill="#585858" stroke="#3c3c3c" stroke-width="0.55"/>
<path d="M133.1,232.8 L134.6,235.7 L131.5,235.7Z" fill="#585858" stroke="#3c3c3c" stroke-width="0.55"/>
<path d="M137.1,209.0 L138.6,211.9 L135.5,211.9Z" fill="#585858" stroke="#3c3c3c" stroke-width="0.55"/>
<path d="M145.1,188.8 L146.6,191.8 L143.5,191.8Z" fill="#585858" stroke="#3c3c3c" stroke-width="0.55"/>
<path d="M149.0,231.0 L150.6,233.9 L147.5,233.9Z" fill="#585858" stroke="#3c3c3c" stroke-width="0.55"/>
<path d="M153.0,223.8 L154.6,226.7 L151.5,226.7Z" fill="#585858" stroke="#3c3c3c" stroke-width="0.55"/>
<path d="M157.0,225.6 L158.6,228.5 L155.5,228.5Z" fill="#585858" stroke="#3c3c3c" stroke-width="0.55"/>
<path d="M161.0,229.2 L162.5,232.1 L159.5,232.1Z" fill="#585858" stroke="#3c3c3c" stroke-width="0.55"/>
<path d="M165.0,229.9 L166.5,232.8 L163.5,232.8Z" fill="#585858" stroke="#3c3c3c" stroke-width="0.55"/>
<polyline fill="none" stroke="#e23c3c" stroke-width="0.7" stroke-linejoin="round" points="49.3,234.5 53.3,224.8 57.3,225.9 61.3,221.9 65.2,222.6 69.2,217.2 73.2,233.1 77.2,231.3 81.2,226.2 85.2,215.8 89.2,209.3 93.2,202.1 97.2,233.8 101.2,224.1 105.2,221.2 109.1,225.5 113.1,217.9 117.1,205.0 121.1,213.3 125.1,200.3 129.1,232.7 133.1,234.9 137.1,230.2 141.1,220.5"/>
<polyline fill="none" stroke="#e23c3c" stroke-width="0.7" stroke-linejoin="round" points="157.0,225.5 161.0,217.2 165.0,214.7"/>
<path d="M49.3,232.8 L50.8,235.7 L47.8,235.7Z" fill="#ea6060" stroke="#e23c3c" stroke-width="0.55"/>
<path d="M53.3,223.0 L54.8,226.0 L51.7,226.0Z" fill="#ea6060" stroke="#e23c3c" stroke-width="0.55"/>
<path d="M57.3,224.1 L58.8,227.0 L55.7,227.0Z" fill="#ea6060" stroke="#e23c3c" stroke-width="0.55"/>
<path d="M61.3,220.2 L62.8,223.1 L59.7,223.1Z" fill="#ea6060" stroke="#e23c3c" stroke-width="0.55"/>
<path d="M65.2,220.9 L66.8,223.8 L63.7,223.8Z" fill="#ea6060" stroke="#e23c3c" stroke-width="0.55"/>
<path d="M69.2,215.5 L70.8,218.4 L67.7,218.4Z" fill="#ea6060" stroke="#e23c3c" stroke-width="0.55"/>
<path d="M73.2,231.3 L74.8,234.2 L71.7,234.2Z" fill="#ea6060" stroke="#e23c3c" stroke-width="0.55"/>
<path d="M77.2,229.5 L78.8,232.4 L75.7,232.4Z" fill="#ea6060" stroke="#e23c3c" stroke-width="0.55"/>
<path d="M81.2,224.5 L82.8,227.4 L79.7,227.4Z" fill="#ea6060" stroke="#e23c3c" stroke-width="0.55"/>
<path d="M85.2,214.0 L86.7,217.0 L83.7,217.0Z" fill="#ea6060" stroke="#e23c3c" stroke-width="0.55"/>
<path d="M89.2,207.6 L90.7,210.5 L87.6,210.5Z" fill="#ea6060" stroke="#e23c3c" stroke-width="0.55"/>
<path d="M93.2,200.4 L94.7,203.3 L91.6,203.3Z" fill="#ea6060" stroke="#e23c3c" stroke-width="0.55"/>
<path d="M97.2,232.0 L98.7,235.0 L95.6,235.0Z" fill="#ea6060" stroke="#e23c3c" stroke-width="0.55"/>
<path d="M101.2,222.3 L102.7,225.2 L99.6,225.2Z" fill="#ea6060" stroke="#e23c3c" stroke-width="0.55"/>
<path d="M105.2,219.4 L106.7,222.4 L103.6,222.4Z" fill="#ea6060" stroke="#e23c3c" stroke-width="0.55"/>
<path d="M109.1,223.8 L110.7,226.7 L107.6,226.7Z" fill="#ea6060" stroke="#e23c3c" stroke-width="0.55"/>
<path d="M113.1,216.2 L114.7,219.1 L111.6,219.1Z" fill="#ea6060" stroke="#e23c3c" stroke-width="0.55"/>
<path d="M117.1,203.2 L118.7,206.2 L115.6,206.2Z" fill="#ea6060" stroke="#e23c3c" stroke-width="0.55"/>
<path d="M121.1,211.5 L122.7,214.4 L119.6,214.4Z" fill="#ea6060" stroke="#e23c3c" stroke-width="0.55"/>
<path d="M125.1,198.6 L126.6,201.5 L123.6,201.5Z" fill="#ea6060" stroke="#e23c3c" stroke-width="0.55"/>
<path d="M129.1,231.0 L130.6,233.9 L127.5,233.9Z" fill="#ea6060" stroke="#e23c3c" stroke-width="0.55"/>
<path d="M133.1,233.1 L134.6,236.0 L131.5,236.0Z" fill="#ea6060" stroke="#e23c3c" stroke-width="0.55"/>
<path d="M137.1,228.4 L138.6,231.4 L135.5,231.4Z" fill="#ea6060" stroke="#e23c3c" stroke-width="0.55"/>
<path d="M141.1,218.7 L142.6,221.6 L139.5,221.6Z" fill="#ea6060" stroke="#e23c3c" stroke-width="0.55"/>
<path d="M149.0,237.4 L150.6,240.4 L147.5,240.4Z" fill="#ea6060" stroke="#e23c3c" stroke-width="0.55"/>
<path d="M157.0,223.8 L158.6,226.7 L155.5,226.7Z" fill="#ea6060" stroke="#e23c3c" stroke-width="0.55"/>
<path d="M161.0,215.5 L162.5,218.4 L159.5,218.4Z" fill="#ea6060" stroke="#e23c3c" stroke-width="0.55"/>
<path d="M165.0,213.0 L166.5,215.9 L163.5,215.9Z" fill="#ea6060" stroke="#e23c3c" stroke-width="0.55"/>
<polyline fill="none" stroke="#3d3de2" stroke-width="0.7" stroke-linejoin="round" points="49.3,221.5 53.3,226.9 57.3,223.7 61.3,226.2 65.2,223.3 69.2,220.1 73.2,232.7 77.2,211.5 81.2,214.3 85.2,214.0 89.2,212.2 93.2,209.3 97.2,232.7 101.2,224.8 105.2,193.5 109.1,185.9 113.1,194.9 117.1,199.2 121.1,214.7 125.1,211.5 129.1,207.1 133.1,188.4 137.1,174.4 141.1,181.6 145.1,238.8 149.0,195.3 153.0,223.0 157.0,224.8 161.0,215.4 165.0,208.2"/>
<path d="M49.3,219.8 L50.8,222.7 L47.8,222.7Z" fill="#5c5ce8" stroke="#3d3de2" stroke-width="0.55"/>
<path d="M53.3,225.2 L54.8,228.1 L51.7,228.1Z" fill="#5c5ce8" stroke="#3d3de2" stroke-width="0.55"/>
<path d="M57.3,222.0 L58.8,224.9 L55.7,224.9Z" fill="#5c5ce8" stroke="#3d3de2" stroke-width="0.55"/>
<path d="M61.3,224.5 L62.8,227.4 L59.7,227.4Z" fill="#5c5ce8" stroke="#3d3de2" stroke-width="0.55"/>
<path d="M65.2,221.6 L66.8,224.5 L63.7,224.5Z" fill="#5c5ce8" stroke="#3d3de2" stroke-width="0.55"/>
<path d="M69.2,218.4 L70.8,221.3 L67.7,221.3Z" fill="#5c5ce8" stroke="#3d3de2" stroke-width="0.55"/>
<path d="M73.2,231.0 L74.8,233.9 L71.7,233.9Z" fill="#5c5ce8" stroke="#3d3de2" stroke-width="0.55"/>
<path d="M77.2,209.7 L78.8,212.6 L75.7,212.6Z" fill="#5c5ce8" stroke="#3d3de2" stroke-width="0.55"/>
<path d="M81.2,212.6 L82.8,215.5 L79.7,215.5Z" fill="#5c5ce8" stroke="#3d3de2" stroke-width="0.55"/>
<path d="M85.2,212.2 L86.7,215.2 L83.7,215.2Z" fill="#5c5ce8" stroke="#3d3de2" stroke-width="0.55"/>
<path d="M89.2,210.4 L90.7,213.4 L87.6,213.4Z" fill="#5c5ce8" stroke="#3d3de2" stroke-width="0.55"/>
<path d="M93.2,207.6 L94.7,210.5 L91.6,210.5Z" fill="#5c5ce8" stroke="#3d3de2" stroke-width="0.55"/>
<path d="M97.2,231.0 L98.7,233.9 L95.6,233.9Z" fill="#5c5ce8" stroke="#3d3de2" stroke-width="0.55"/>
<path d="M101.2,223.0 L102.7,226.0 L99.6,226.0Z" fill="#5c5ce8" stroke="#3d3de2" stroke-width="0.55"/>
<path d="M105.2,191.7 L106.7,194.6 L103.6,194.6Z" fill="#5c5ce8" stroke="#3d3de2" stroke-width="0.55"/>
<path d="M109.1,184.2 L110.7,187.1 L107.6,187.1Z" fill="#5c5ce8" stroke="#3d3de2" stroke-width="0.55"/>
<path d="M113.1,193.2 L114.7,196.1 L111.6,196.1Z" fill="#5c5ce8" stroke="#3d3de2" stroke-width="0.55"/>
<path d="M117.1,197.5 L118.7,200.4 L115.6,200.4Z" fill="#5c5ce8" stroke="#3d3de2" stroke-width="0.55"/>
<path d="M121.1,213.0 L122.7,215.9 L119.6,215.9Z" fill="#5c5ce8" stroke="#3d3de2" stroke-width="0.55"/>
<path d="M125.1,209.7 L126.6,212.6 L123.6,212.6Z" fill="#5c5ce8" stroke="#3d3de2" stroke-width="0.55"/>
<path d="M129.1,205.4 L130.6,208.3 L127.5,208.3Z" fill="#5c5ce8" stroke="#3d3de2" stroke-width="0.55"/>
<path d="M133.1,186.7 L134.6,189.6 L131.5,189.6Z" fill="#5c5ce8" stroke="#3d3de2" stroke-width="0.55"/>
<path d="M137.1,172.6 L138.6,175.6 L135.5,175.6Z" fill="#5c5ce8" stroke="#3d3de2" stroke-width="0.55"/>
<path d="M141.1,179.8 L142.6,182.8 L139.5,182.8Z" fill="#5c5ce8" stroke="#3d3de2" stroke-width="0.55"/>
<path d="M145.1,237.1 L146.6,240.0 L143.5,240.0Z" fill="#5c5ce8" stroke="#3d3de2" stroke-width="0.55"/>
<path d="M149.0,193.5 L150.6,196.4 L147.5,196.4Z" fill="#5c5ce8" stroke="#3d3de2" stroke-width="0.55"/>
<path d="M153.0,221.2 L154.6,224.2 L151.5,224.2Z" fill="#5c5ce8" stroke="#3d3de2" stroke-width="0.55"/>
<path d="M157.0,223.0 L158.6,226.0 L155.5,226.0Z" fill="#5c5ce8" stroke="#3d3de2" stroke-width="0.55"/>
<path d="M161.0,213.7 L162.5,216.6 L159.5,216.6Z" fill="#5c5ce8" stroke="#3d3de2" stroke-width="0.55"/>
<path d="M165.0,206.5 L166.5,209.4 L163.5,209.4Z" fill="#5c5ce8" stroke="#3d3de2" stroke-width="0.55"/>
<rect x="50.8" y="165" width="51.2" height="20" fill="#fff" stroke="#a8a8a8" stroke-width="0.6"/>
<path d="M52.2,168.8H63" stroke="#3d3de2" stroke-width="0.7"/>
<path d="M57.6,167.3 L58.9,169.8 L56.3,169.8Z" fill="#3d3de2" stroke="#3d3de2" stroke-width="0.3"/>
<text x="64.1" y="170.7" font-size="5.3" fill="#333" textLength="28.3" lengthAdjust="spacingAndGlyphs">Conventional</text>
<path d="M52.2,175.2H63" stroke="#3c3c3c" stroke-width="0.7"/>
<path d="M57.6,173.7 L58.9,176.2 L56.3,176.2Z" fill="#3c3c3c" stroke="#3c3c3c" stroke-width="0.3"/>
<text x="64.1" y="177.1" font-size="5.3" fill="#333" textLength="29.4" lengthAdjust="spacingAndGlyphs">Phase screen</text>
<path d="M52.2,181.5H63" stroke="#e23c3c" stroke-width="0.7"/>
<path d="M57.6,180.0 L58.9,182.5 L56.3,182.5Z" fill="#e23c3c" stroke="#e23c3c" stroke-width="0.3"/>
<text x="64.1" y="183.4" font-size="5.3" fill="#333" textLength="36.5" lengthAdjust="spacingAndGlyphs">Geometry-based</text>
<text x="136" y="179.3" class="L" font-size="11" font-weight="bold" fill="#000" textLength="13.4" lengthAdjust="spacingAndGlyphs">(e)</text>
<rect x="206.6" y="166.0" width="120.6" height="91.0" fill="#fff"/>
<path class="gm" d="M206.8,166.0V257.0M210.8,166.0V257.0M214.8,166.0V257.0M218.8,166.0V257.0M222.7,166.0V257.0M226.7,166.0V257.0M230.7,166.0V257.0M234.7,166.0V257.0M238.7,166.0V257.0M242.7,166.0V257.0M246.7,166.0V257.0M250.6,166.0V257.0M254.6,166.0V257.0M258.6,166.0V257.0M262.6,166.0V257.0M266.6,166.0V257.0M270.6,166.0V257.0M274.5,166.0V257.0M278.5,166.0V257.0M282.5,166.0V257.0M286.5,166.0V257.0M290.5,166.0V257.0M294.5,166.0V257.0M298.5,166.0V257.0M302.4,166.0V257.0M306.4,166.0V257.0M310.4,166.0V257.0M314.4,166.0V257.0M318.4,166.0V257.0M322.4,166.0V257.0M326.4,166.0V257.0"/>
<path class="gm" d="M206.6,257.0H327.2M206.6,251.4H327.2M206.6,245.8H327.2M206.6,240.2H327.2M206.6,234.6H327.2M206.6,229.0H327.2M206.6,223.4H327.2M206.6,217.8H327.2M206.6,212.2H327.2M206.6,206.6H327.2M206.6,201.0H327.2M206.6,195.4H327.2M206.6,189.8H327.2M206.6,184.2H327.2M206.6,178.6H327.2M206.6,173.0H327.2M206.6,167.4H327.2"/>
<path class="gr" d="M226.7,166.0V257.0M246.7,166.0V257.0M266.6,166.0V257.0M286.5,166.0V257.0M306.4,166.0V257.0M326.4,166.0V257.0"/>
<path class="gr" d="M206.6,229.0H327.2M206.6,201.0H327.2M206.6,173.0H327.2"/>
<path class="ax" d="M206.6,166.0V257.0H327.2"/>
<path d="M206.6,166.0H327.2V257.0" stroke="#d8d8d8" stroke-width=".5" fill="none"/>
<text class="t" x="206.8" y="264.6" text-anchor="middle" font-size="5.8">0</text>
<text class="t" x="226.7" y="264.6" text-anchor="middle" font-size="5.8">5</text>
<text class="t" x="246.7" y="264.6" text-anchor="middle" font-size="5.8">10</text>
<text class="t" x="266.6" y="264.6" text-anchor="middle" font-size="5.8">15</text>
<text class="t" x="286.5" y="264.6" text-anchor="middle" font-size="5.8">20</text>
<text class="t" x="306.4" y="264.6" text-anchor="middle" font-size="5.8">25</text>
<text class="t" x="326.4" y="264.6" text-anchor="middle" font-size="5.8">30</text>
<text class="t" x="205.2" y="259.1" text-anchor="end" font-size="5.9">40</text>
<text class="t" x="205.2" y="231.1" text-anchor="end" font-size="5.9">45</text>
<text class="t" x="205.2" y="203.1" text-anchor="end" font-size="5.9">50</text>
<text class="t" x="205.2" y="175.1" text-anchor="end" font-size="5.9">55</text>
<text class="t" x="266" y="272" text-anchor="middle" font-size="6.4">Scatterer</text>
<text class="t" transform="translate(196.1,211.7) rotate(-90)" text-anchor="middle" font-size="6.1">Signal to Clutter Ratio[dB]</text>
<polyline fill="none" stroke="#3d3de2" stroke-width="0.7" stroke-linejoin="round" points="210.8,210.5 214.8,213.9 218.8,218.9 222.7,223.4 226.7,226.2 230.7,236.3 234.7,203.8 238.7,218.4 242.7,225.1 246.7,228.4 250.6,228.4 254.6,230.7 258.6,216.7 262.6,217.2 266.6,230.1 270.6,231.2 274.5,230.7 278.5,232.4 282.5,213.9 286.5,218.4 290.5,219.5 294.5,231.2 298.5,244.1 302.4,246.4 306.4,225.1 310.4,245.5 314.4,252.5 318.4,249.7 322.4,247.8 326.4,245.2"/>
<path d="M210.8,208.8 L212.3,211.7 L209.2,211.7Z" fill="#5c5ce8" stroke="#3d3de2" stroke-width="0.55"/>
<path d="M214.8,212.1 L216.3,215.1 L213.2,215.1Z" fill="#5c5ce8" stroke="#3d3de2" stroke-width="0.55"/>
<path d="M218.8,217.2 L220.3,220.1 L217.2,220.1Z" fill="#5c5ce8" stroke="#3d3de2" stroke-width="0.55"/>
<path d="M222.7,221.7 L224.3,224.6 L221.2,224.6Z" fill="#5c5ce8" stroke="#3d3de2" stroke-width="0.55"/>
<path d="M226.7,224.5 L228.3,227.4 L225.2,227.4Z" fill="#5c5ce8" stroke="#3d3de2" stroke-width="0.55"/>
<path d="M230.7,234.5 L232.2,237.5 L229.2,237.5Z" fill="#5c5ce8" stroke="#3d3de2" stroke-width="0.55"/>
<path d="M234.7,202.1 L236.2,205.0 L233.2,205.0Z" fill="#5c5ce8" stroke="#3d3de2" stroke-width="0.55"/>
<path d="M238.7,216.6 L240.2,219.5 L237.1,219.5Z" fill="#5c5ce8" stroke="#3d3de2" stroke-width="0.55"/>
<path d="M242.7,223.3 L244.2,226.3 L241.1,226.3Z" fill="#5c5ce8" stroke="#3d3de2" stroke-width="0.55"/>
<path d="M246.7,226.7 L248.2,229.6 L245.1,229.6Z" fill="#5c5ce8" stroke="#3d3de2" stroke-width="0.55"/>
<path d="M250.6,226.7 L252.2,229.6 L249.1,229.6Z" fill="#5c5ce8" stroke="#3d3de2" stroke-width="0.55"/>
<path d="M254.6,228.9 L256.2,231.9 L253.1,231.9Z" fill="#5c5ce8" stroke="#3d3de2" stroke-width="0.55"/>
<path d="M258.6,214.9 L260.1,217.9 L257.1,217.9Z" fill="#5c5ce8" stroke="#3d3de2" stroke-width="0.55"/>
<path d="M262.6,215.5 L264.1,218.4 L261.1,218.4Z" fill="#5c5ce8" stroke="#3d3de2" stroke-width="0.55"/>
<path d="M266.6,228.4 L268.1,231.3 L265.0,231.3Z" fill="#5c5ce8" stroke="#3d3de2" stroke-width="0.55"/>
<path d="M270.6,229.5 L272.1,232.4 L269.0,232.4Z" fill="#5c5ce8" stroke="#3d3de2" stroke-width="0.55"/>
<path d="M274.5,228.9 L276.1,231.9 L273.0,231.9Z" fill="#5c5ce8" stroke="#3d3de2" stroke-width="0.55"/>
<path d="M278.5,230.6 L280.1,233.5 L277.0,233.5Z" fill="#5c5ce8" stroke="#3d3de2" stroke-width="0.55"/>
<path d="M282.5,212.1 L284.1,215.1 L281.0,215.1Z" fill="#5c5ce8" stroke="#3d3de2" stroke-width="0.55"/>
<path d="M286.5,216.6 L288.0,219.5 L285.0,219.5Z" fill="#5c5ce8" stroke="#3d3de2" stroke-width="0.55"/>
<path d="M290.5,217.7 L292.0,220.7 L288.9,220.7Z" fill="#5c5ce8" stroke="#3d3de2" stroke-width="0.55"/>
<path d="M294.5,229.5 L296.0,232.4 L292.9,232.4Z" fill="#5c5ce8" stroke="#3d3de2" stroke-width="0.55"/>
<path d="M298.5,242.4 L300.0,245.3 L296.9,245.3Z" fill="#5c5ce8" stroke="#3d3de2" stroke-width="0.55"/>
<path d="M302.4,244.6 L304.0,247.5 L300.9,247.5Z" fill="#5c5ce8" stroke="#3d3de2" stroke-width="0.55"/>
<path d="M306.4,223.3 L308.0,226.3 L304.9,226.3Z" fill="#5c5ce8" stroke="#3d3de2" stroke-width="0.55"/>
<path d="M310.4,243.8 L312.0,246.7 L308.9,246.7Z" fill="#5c5ce8" stroke="#3d3de2" stroke-width="0.55"/>
<path d="M314.4,250.8 L315.9,253.7 L312.9,253.7Z" fill="#5c5ce8" stroke="#3d3de2" stroke-width="0.55"/>
<path d="M318.4,248.0 L319.9,250.9 L316.8,250.9Z" fill="#5c5ce8" stroke="#3d3de2" stroke-width="0.55"/>
<path d="M322.4,246.0 L323.9,248.9 L320.8,248.9Z" fill="#5c5ce8" stroke="#3d3de2" stroke-width="0.55"/>
<path d="M326.4,243.5 L327.9,246.4 L324.8,246.4Z" fill="#5c5ce8" stroke="#3d3de2" stroke-width="0.55"/>
<polyline fill="none" stroke="#3c3c3c" stroke-width="0.7" stroke-linejoin="round" points="210.8,183.1 214.8,192.6 218.8,198.8 222.7,203.8 226.7,210.5 230.7,219.5 234.7,187.0 238.7,200.7 242.7,201.0 246.7,210.0 250.6,218.4 254.6,222.8 258.6,166.3 262.6,180.3 266.6,199.9 270.6,213.3 274.5,206.6 278.5,201.6 282.5,182.5 286.5,185.6 290.5,184.2 294.5,198.2 298.5,207.2 302.4,213.9 306.4,221.2 310.4,218.4 314.4,234.6 318.4,227.9 322.4,230.1 326.4,227.3"/>
<path d="M210.8,181.3 L212.3,184.3 L209.2,184.3Z" fill="#585858" stroke="#3c3c3c" stroke-width="0.55"/>
<path d="M214.8,190.9 L216.3,193.8 L213.2,193.8Z" fill="#585858" stroke="#3c3c3c" stroke-width="0.55"/>
<path d="M218.8,197.0 L220.3,199.9 L217.2,199.9Z" fill="#585858" stroke="#3c3c3c" stroke-width="0.55"/>
<path d="M222.7,202.1 L224.3,205.0 L221.2,205.0Z" fill="#585858" stroke="#3c3c3c" stroke-width="0.55"/>
<path d="M226.7,208.8 L228.3,211.7 L225.2,211.7Z" fill="#585858" stroke="#3c3c3c" stroke-width="0.55"/>
<path d="M230.7,217.7 L232.2,220.7 L229.2,220.7Z" fill="#585858" stroke="#3c3c3c" stroke-width="0.55"/>
<path d="M234.7,185.3 L236.2,188.2 L233.2,188.2Z" fill="#585858" stroke="#3c3c3c" stroke-width="0.55"/>
<path d="M238.7,199.0 L240.2,201.9 L237.1,201.9Z" fill="#585858" stroke="#3c3c3c" stroke-width="0.55"/>
<path d="M242.7,199.3 L244.2,202.2 L241.1,202.2Z" fill="#585858" stroke="#3c3c3c" stroke-width="0.55"/>
<path d="M246.7,208.2 L248.2,211.1 L245.1,211.1Z" fill="#585858" stroke="#3c3c3c" stroke-width="0.55"/>
<path d="M250.6,216.6 L252.2,219.5 L249.1,219.5Z" fill="#585858" stroke="#3c3c3c" stroke-width="0.55"/>
<path d="M254.6,221.1 L256.2,224.0 L253.1,224.0Z" fill="#585858" stroke="#3c3c3c" stroke-width="0.55"/>
<path d="M258.6,164.5 L260.1,167.5 L257.1,167.5Z" fill="#585858" stroke="#3c3c3c" stroke-width="0.55"/>
<path d="M262.6,178.5 L264.1,181.5 L261.1,181.5Z" fill="#585858" stroke="#3c3c3c" stroke-width="0.55"/>
<path d="M266.6,198.1 L268.1,201.1 L265.0,201.1Z" fill="#585858" stroke="#3c3c3c" stroke-width="0.55"/>
<path d="M270.6,211.6 L272.1,214.5 L269.0,214.5Z" fill="#585858" stroke="#3c3c3c" stroke-width="0.55"/>
<path d="M274.5,204.9 L276.1,207.8 L273.0,207.8Z" fill="#585858" stroke="#3c3c3c" stroke-width="0.55"/>
<path d="M278.5,199.8 L280.1,202.7 L277.0,202.7Z" fill="#585858" stroke="#3c3c3c" stroke-width="0.55"/>
<path d="M282.5,180.8 L284.1,183.7 L281.0,183.7Z" fill="#585858" stroke="#3c3c3c" stroke-width="0.55"/>
<path d="M286.5,183.9 L288.0,186.8 L285.0,186.8Z" fill="#585858" stroke="#3c3c3c" stroke-width="0.55"/>
<path d="M290.5,182.5 L292.0,185.4 L288.9,185.4Z" fill="#585858" stroke="#3c3c3c" stroke-width="0.55"/>
<path d="M294.5,196.5 L296.0,199.4 L292.9,199.4Z" fill="#585858" stroke="#3c3c3c" stroke-width="0.55"/>
<path d="M298.5,205.4 L300.0,208.3 L296.9,208.3Z" fill="#585858" stroke="#3c3c3c" stroke-width="0.55"/>
<path d="M302.4,212.1 L304.0,215.1 L300.9,215.1Z" fill="#585858" stroke="#3c3c3c" stroke-width="0.55"/>
<path d="M306.4,219.4 L308.0,222.3 L304.9,222.3Z" fill="#585858" stroke="#3c3c3c" stroke-width="0.55"/>
<path d="M310.4,216.6 L312.0,219.5 L308.9,219.5Z" fill="#585858" stroke="#3c3c3c" stroke-width="0.55"/>
<path d="M314.4,232.9 L315.9,235.8 L312.9,235.8Z" fill="#585858" stroke="#3c3c3c" stroke-width="0.55"/>
<path d="M318.4,226.1 L319.9,229.1 L316.8,229.1Z" fill="#585858" stroke="#3c3c3c" stroke-width="0.55"/>
<path d="M322.4,228.4 L323.9,231.3 L320.8,231.3Z" fill="#585858" stroke="#3c3c3c" stroke-width="0.55"/>
<path d="M326.4,225.6 L327.9,228.5 L324.8,228.5Z" fill="#585858" stroke="#3c3c3c" stroke-width="0.55"/>
<polyline fill="none" stroke="#e23c3c" stroke-width="0.7" stroke-linejoin="round" points="210.8,172.4 214.8,184.2 218.8,192.6 222.7,198.8 226.7,200.7 230.7,206.0 234.7,167.4 238.7,175.2 242.7,188.7 246.7,192.6 250.6,201.6 254.6,204.9 258.6,178.3 262.6,180.3 266.6,174.7 270.6,189.2 274.5,192.0 278.5,201.0 282.5,183.1 286.5,186.4 290.5,189.2 294.5,182.5 298.5,189.2 302.4,198.8 306.4,211.1 310.4,226.8 314.4,217.8 318.4,208.8 322.4,201.0 326.4,206.6"/>
<path d="M210.8,170.7 L212.3,173.6 L209.2,173.6Z" fill="#ea6060" stroke="#e23c3c" stroke-width="0.55"/>
<path d="M214.8,182.5 L216.3,185.4 L213.2,185.4Z" fill="#ea6060" stroke="#e23c3c" stroke-width="0.55"/>
<path d="M218.8,190.9 L220.3,193.8 L217.2,193.8Z" fill="#ea6060" stroke="#e23c3c" stroke-width="0.55"/>
<path d="M222.7,197.0 L224.3,199.9 L221.2,199.9Z" fill="#ea6060" stroke="#e23c3c" stroke-width="0.55"/>
<path d="M226.7,199.0 L228.3,201.9 L225.2,201.9Z" fill="#ea6060" stroke="#e23c3c" stroke-width="0.55"/>
<path d="M230.7,204.3 L232.2,207.2 L229.2,207.2Z" fill="#ea6060" stroke="#e23c3c" stroke-width="0.55"/>
<path d="M234.7,165.7 L236.2,168.6 L233.2,168.6Z" fill="#ea6060" stroke="#e23c3c" stroke-width="0.55"/>
<path d="M238.7,173.5 L240.2,176.4 L237.1,176.4Z" fill="#ea6060" stroke="#e23c3c" stroke-width="0.55"/>
<path d="M242.7,186.9 L244.2,189.9 L241.1,189.9Z" fill="#ea6060" stroke="#e23c3c" stroke-width="0.55"/>
<path d="M246.7,190.9 L248.2,193.8 L245.1,193.8Z" fill="#ea6060" stroke="#e23c3c" stroke-width="0.55"/>
<path d="M250.6,199.8 L252.2,202.7 L249.1,202.7Z" fill="#ea6060" stroke="#e23c3c" stroke-width="0.55"/>
<path d="M254.6,203.2 L256.2,206.1 L253.1,206.1Z" fill="#ea6060" stroke="#e23c3c" stroke-width="0.55"/>
<path d="M258.6,176.6 L260.1,179.5 L257.1,179.5Z" fill="#ea6060" stroke="#e23c3c" stroke-width="0.55"/>
<path d="M262.6,178.5 L264.1,181.5 L261.1,181.5Z" fill="#ea6060" stroke="#e23c3c" stroke-width="0.55"/>
<path d="M266.6,172.9 L268.1,175.9 L265.0,175.9Z" fill="#ea6060" stroke="#e23c3c" stroke-width="0.55"/>
<path d="M270.6,187.5 L272.1,190.4 L269.0,190.4Z" fill="#ea6060" stroke="#e23c3c" stroke-width="0.55"/>
<path d="M274.5,190.3 L276.1,193.2 L273.0,193.2Z" fill="#ea6060" stroke="#e23c3c" stroke-width="0.55"/>
<path d="M278.5,199.3 L280.1,202.2 L277.0,202.2Z" fill="#ea6060" stroke="#e23c3c" stroke-width="0.55"/>
<path d="M282.5,181.3 L284.1,184.3 L281.0,184.3Z" fill="#ea6060" stroke="#e23c3c" stroke-width="0.55"/>
<path d="M286.5,184.7 L288.0,187.6 L285.0,187.6Z" fill="#ea6060" stroke="#e23c3c" stroke-width="0.55"/>
<path d="M290.5,187.5 L292.0,190.4 L288.9,190.4Z" fill="#ea6060" stroke="#e23c3c" stroke-width="0.55"/>
<path d="M294.5,180.8 L296.0,183.7 L292.9,183.7Z" fill="#ea6060" stroke="#e23c3c" stroke-width="0.55"/>
<path d="M298.5,187.5 L300.0,190.4 L296.9,190.4Z" fill="#ea6060" stroke="#e23c3c" stroke-width="0.55"/>
<path d="M302.4,197.0 L304.0,199.9 L300.9,199.9Z" fill="#ea6060" stroke="#e23c3c" stroke-width="0.55"/>
<path d="M306.4,209.3 L308.0,212.3 L304.9,212.3Z" fill="#ea6060" stroke="#e23c3c" stroke-width="0.55"/>
<path d="M310.4,225.0 L312.0,227.9 L308.9,227.9Z" fill="#ea6060" stroke="#e23c3c" stroke-width="0.55"/>
<path d="M314.4,216.1 L315.9,219.0 L312.9,219.0Z" fill="#ea6060" stroke="#e23c3c" stroke-width="0.55"/>
<path d="M318.4,207.1 L319.9,210.0 L316.8,210.0Z" fill="#ea6060" stroke="#e23c3c" stroke-width="0.55"/>
<path d="M322.4,199.3 L323.9,202.2 L320.8,202.2Z" fill="#ea6060" stroke="#e23c3c" stroke-width="0.55"/>
<path d="M326.4,204.9 L327.9,207.8 L324.8,207.8Z" fill="#ea6060" stroke="#e23c3c" stroke-width="0.55"/>
<rect x="286" y="160.7" width="51.3" height="19.9" fill="#fff" stroke="#a8a8a8" stroke-width="0.6"/>
<path d="M287.6,165.0H298" stroke="#3d3de2" stroke-width="0.7"/>
<path d="M292.9,163.5 L294.2,166.0 L291.6,166.0Z" fill="#3d3de2" stroke="#3d3de2" stroke-width="0.3"/>
<text x="299.1" y="166.9" font-size="5.3" fill="#333" textLength="28.6" lengthAdjust="spacingAndGlyphs">Conventional</text>
<path d="M287.6,171.3H298" stroke="#3c3c3c" stroke-width="0.7"/>
<path d="M292.9,169.9 L294.2,172.4 L291.6,172.4Z" fill="#3c3c3c" stroke="#3c3c3c" stroke-width="0.3"/>
<text x="299.1" y="173.2" font-size="5.3" fill="#333" textLength="30.0" lengthAdjust="spacingAndGlyphs">Phase screen</text>
<path d="M287.6,177.7H298" stroke="#e23c3c" stroke-width="0.7"/>
<path d="M292.9,176.2 L294.2,178.7 L291.6,178.7Z" fill="#e23c3c" stroke="#e23c3c" stroke-width="0.3"/>
<text x="299.1" y="179.6" font-size="5.3" fill="#333" textLength="36.7" lengthAdjust="spacingAndGlyphs">Geometry-based</text>
<text x="214.2" y="242.3" class="L" font-size="11" font-weight="bold" fill="#000" textLength="11.8" lengthAdjust="spacingAndGlyphs">(f)</text>
<rect x="373.0" y="170.6" width="150.20000000000005" height="83.70000000000002" fill="#fff"/>
<path class="gm" d="M373.0,170.6V254.3M378.0,170.6V254.3M383.0,170.6V254.3M388.0,170.6V254.3M393.0,170.6V254.3M398.0,170.6V254.3M403.0,170.6V254.3M408.0,170.6V254.3M413.1,170.6V254.3M418.1,170.6V254.3M423.1,170.6V254.3M428.1,170.6V254.3M433.1,170.6V254.3M438.1,170.6V254.3M443.1,170.6V254.3M448.1,170.6V254.3M453.1,170.6V254.3M458.1,170.6V254.3M463.1,170.6V254.3M468.1,170.6V254.3M473.1,170.6V254.3M478.1,170.6V254.3M483.1,170.6V254.3M488.2,170.6V254.3M493.2,170.6V254.3M498.2,170.6V254.3M503.2,170.6V254.3M508.2,170.6V254.3M513.2,170.6V254.3M518.2,170.6V254.3M523.2,170.6V254.3"/>
<path class="gm" d="M373.0,254.3H523.2M373.0,251.5H523.2M373.0,248.7H523.2M373.0,245.9H523.2M373.0,243.1H523.2M373.0,240.4H523.2M373.0,237.6H523.2M373.0,234.8H523.2M373.0,232.0H523.2M373.0,229.2H523.2M373.0,226.4H523.2M373.0,223.6H523.2M373.0,220.8H523.2M373.0,218.0H523.2M373.0,215.2H523.2M373.0,212.5H523.2M373.0,209.7H523.2M373.0,206.9H523.2M373.0,204.1H523.2M373.0,201.3H523.2M373.0,198.5H523.2M373.0,195.7H523.2M373.0,192.9H523.2M373.0,190.1H523.2M373.0,187.3H523.2M373.0,184.6H523.2M373.0,181.8H523.2M373.0,179.0H523.2M373.0,176.2H523.2M373.0,173.4H523.2M373.0,170.6H523.2"/>
<path class="gr" d="M398.0,170.6V254.3M423.1,170.6V254.3M448.1,170.6V254.3M473.1,170.6V254.3M498.2,170.6V254.3"/>
<path class="gr" d="M373.0,240.4H523.2M373.0,226.4H523.2M373.0,212.5H523.2M373.0,198.5H523.2M373.0,184.6H523.2"/>
<path class="ax" d="M373.0,170.6V254.3H523.2"/>
<path d="M373.0,170.6H523.2V254.3" stroke="#c8c8c8" stroke-width=".5" fill="none"/>
<text class="t" x="372.2" y="262.2" text-anchor="middle" font-size="5.8">-15</text>
<text class="t" x="397.2" y="262.2" text-anchor="middle" font-size="5.8">-10</text>
<text class="t" x="422.3" y="262.2" text-anchor="middle" font-size="5.8">-5</text>
<text class="t" x="448.1" y="262.2" text-anchor="middle" font-size="5.8">0</text>
<text class="t" x="473.1" y="262.2" text-anchor="middle" font-size="5.8">5</text>
<text class="t" x="498.2" y="262.2" text-anchor="middle" font-size="5.8">10</text>
<text class="t" x="523.2" y="262.2" text-anchor="middle" font-size="5.8">15</text>
<text class="t" x="371.8" y="256.4" text-anchor="end" font-size="5.9">30</text>
<text class="t" x="371.8" y="242.5" text-anchor="end" font-size="5.9">35</text>
<text class="t" x="371.8" y="228.5" text-anchor="end" font-size="5.9">40</text>
<text class="t" x="371.8" y="214.6" text-anchor="end" font-size="5.9">45</text>
<text class="t" x="371.8" y="200.6" text-anchor="end" font-size="5.9">50</text>
<text class="t" x="371.8" y="186.7" text-anchor="end" font-size="5.9">55</text>
<text class="t" x="371.8" y="172.7" text-anchor="end" font-size="5.9">60</text>
<text class="t" x="448" y="269.8" text-anchor="middle" font-size="6.4">Lateral [mm]</text>
<text class="t" transform="translate(360.3,212.5) rotate(-90)" text-anchor="middle" font-size="6">Axial [mm]</text>
<text x="448" y="167.8" text-anchor="middle" font-size="6.4" font-weight="bold" fill="#000" textLength="61.5" lengthAdjust="spacingAndGlyphs">Scatterer localization</text>
<text x="350.8" y="177.4" class="L" font-size="11" font-weight="bold" fill="#000" textLength="12.8" lengthAdjust="spacingAndGlyphs">(g)</text>
<g fill="#f3d778" stroke="#e8b923" stroke-width="0.7" stroke-linejoin="round"><path d="M385.0,182.4l2.2,3.7h-4.4z"/><path d="M413.6,178.8l2.2,3.7h-4.4z"/><path d="M442.3,177.6l2.2,3.7h-4.4z"/><path d="M468.2,177.9l2.2,3.7h-4.4z"/><path d="M504.5,180.5l2.2,3.7h-4.4z"/><path d="M390.7,194.3l2.2,3.7h-4.4z"/><path d="M416.3,191.9l2.2,3.7h-4.4z"/><path d="M443.7,190.4l2.2,3.7h-4.4z"/><path d="M466.0,190.4l2.2,3.7h-4.4z"/><path d="M500.2,192.9l2.2,3.7h-4.4z"/><path d="M396.2,206.7l2.2,3.7h-4.4z"/><path d="M419.5,204.0l2.2,3.7h-4.4z"/><path d="M440.8,202.3l2.2,3.7h-4.4z"/><path d="M465.0,202.6l2.2,3.7h-4.4z"/><path d="M496.3,205.4l2.2,3.7h-4.4z"/><path d="M400.3,219.3l2.2,3.7h-4.4z"/><path d="M422.1,216.4l2.2,3.7h-4.4z"/><path d="M442.3,215.5l2.2,3.7h-4.4z"/><path d="M464.1,215.2l2.2,3.7h-4.4z"/><path d="M491.2,217.4l2.2,3.7h-4.4z"/><path d="M405.1,231.4l2.2,3.7h-4.4z"/><path d="M425.3,229.2l2.2,3.7h-4.4z"/><path d="M443.5,228.2l2.2,3.7h-4.4z"/><path d="M462.8,228.2l2.2,3.7h-4.4z"/><path d="M485.4,229.6l2.2,3.7h-4.4z"/><path d="M410.7,243.4l2.2,3.7h-4.4z"/><path d="M428.5,241.9l2.2,3.7h-4.4z"/><path d="M444.3,240.9l2.2,3.7h-4.4z"/><path d="M460.8,240.8l2.2,3.7h-4.4z"/><path d="M475.5,241.6l2.2,3.7h-4.4z"/></g>
<g fill="#111"><rect x="384.2" y="184.3" width="1.6" height="1.6"/><rect x="412.8" y="180.7" width="1.6" height="1.6"/><rect x="441.5" y="179.5" width="1.6" height="1.6"/><rect x="471.9" y="180.2" width="1.7" height="1.7"/><rect x="503.7" y="182.4" width="1.6" height="1.6"/><rect x="389.9" y="196.2" width="1.6" height="1.6"/><rect x="415.5" y="193.8" width="1.6" height="1.6"/><rect x="442.9" y="192.3" width="1.6" height="1.6"/><rect x="465.2" y="192.3" width="1.6" height="1.6"/><rect x="499.4" y="194.8" width="1.6" height="1.6"/><rect x="395.4" y="208.6" width="1.6" height="1.6"/><rect x="418.7" y="205.9" width="1.6" height="1.6"/><rect x="440.0" y="204.2" width="1.6" height="1.6"/><rect x="464.2" y="204.5" width="1.6" height="1.6"/><rect x="495.5" y="207.3" width="1.6" height="1.6"/><rect x="399.5" y="221.2" width="1.6" height="1.6"/><rect x="421.3" y="218.3" width="1.6" height="1.6"/><rect x="441.5" y="217.4" width="1.6" height="1.6"/><rect x="463.3" y="217.1" width="1.6" height="1.6"/><rect x="483.3" y="219.2" width="1.7" height="1.7"/><rect x="404.3" y="233.3" width="1.6" height="1.6"/><rect x="424.5" y="231.1" width="1.6" height="1.6"/><rect x="442.7" y="230.1" width="1.6" height="1.6"/><rect x="462.0" y="230.1" width="1.6" height="1.6"/><rect x="479.1" y="232.0" width="1.7" height="1.7"/><rect x="409.9" y="245.3" width="1.6" height="1.6"/><rect x="427.7" y="243.8" width="1.6" height="1.6"/><rect x="443.5" y="242.8" width="1.6" height="1.6"/><rect x="460.0" y="242.7" width="1.6" height="1.6"/><rect x="474.7" y="243.5" width="1.6" height="1.6"/></g>
<g fill="#fff" fill-opacity="0.6" stroke="#2f8fc8" stroke-width="0.95"><circle cx="388.2" cy="180.5" r="1.9"/><circle cx="418.0" cy="178.1" r="1.9"/><circle cx="447.8" cy="176.9" r="1.9"/><circle cx="478.1" cy="178.1" r="1.9"/><circle cx="507.7" cy="180.5" r="1.9"/><circle cx="392.8" cy="192.9" r="1.9"/><circle cx="420.2" cy="190.7" r="1.9"/><circle cx="447.8" cy="189.7" r="1.9"/><circle cx="475.7" cy="190.7" r="1.9"/><circle cx="503.1" cy="193.2" r="1.9"/><circle cx="397.6" cy="205.0" r="1.9"/><circle cx="422.6" cy="202.9" r="1.9"/><circle cx="448.0" cy="202.1" r="1.9"/><circle cx="473.3" cy="203.0" r="1.9"/><circle cx="498.3" cy="205.3" r="1.9"/><circle cx="402.3" cy="217.7" r="1.9"/><circle cx="424.8" cy="215.3" r="1.9"/><circle cx="448.1" cy="214.5" r="1.9"/><circle cx="471.1" cy="215.6" r="1.9"/><circle cx="493.6" cy="217.8" r="1.9"/><circle cx="407.0" cy="229.7" r="1.9"/><circle cx="427.8" cy="227.9" r="1.9"/><circle cx="448.2" cy="227.4" r="1.9"/><circle cx="468.3" cy="228.3" r="1.9"/><circle cx="488.6" cy="230.2" r="1.9"/><circle cx="411.8" cy="241.9" r="1.9"/><circle cx="429.7" cy="240.6" r="1.9"/><circle cx="448.2" cy="240.2" r="1.9"/><circle cx="466.1" cy="240.6" r="1.9"/><circle cx="484.2" cy="242.4" r="1.9"/></g>
<g fill="#8a2aa8"><circle cx="391.9" cy="180.7" r="0.95"/><circle cx="421.7" cy="178.3" r="0.95"/><circle cx="451.5" cy="177.1" r="0.95"/><circle cx="481.8" cy="178.3" r="0.95"/><circle cx="511.4" cy="180.7" r="0.95"/><circle cx="396.5" cy="193.1" r="0.95"/><circle cx="423.9" cy="190.9" r="0.95"/><circle cx="451.5" cy="189.9" r="0.95"/><circle cx="479.4" cy="190.9" r="0.95"/><circle cx="506.8" cy="193.4" r="0.95"/><circle cx="401.3" cy="205.2" r="0.95"/><circle cx="426.3" cy="203.1" r="0.95"/><circle cx="451.7" cy="202.3" r="0.95"/><circle cx="477.0" cy="203.2" r="0.95"/><circle cx="502.0" cy="205.5" r="0.95"/><circle cx="406.0" cy="217.9" r="0.95"/><circle cx="428.5" cy="215.5" r="0.95"/><circle cx="451.8" cy="214.7" r="0.95"/><circle cx="474.8" cy="215.8" r="0.95"/><circle cx="497.3" cy="218.0" r="0.95"/><circle cx="410.7" cy="229.9" r="0.95"/><circle cx="431.5" cy="228.1" r="0.95"/><circle cx="451.9" cy="227.6" r="0.95"/><circle cx="472.0" cy="228.5" r="0.95"/><circle cx="492.3" cy="230.4" r="0.95"/><circle cx="415.5" cy="242.1" r="0.95"/><circle cx="433.4" cy="240.8" r="0.95"/><circle cx="451.9" cy="240.4" r="0.95"/><circle cx="469.8" cy="240.8" r="0.95"/><circle cx="475.2" cy="242.6" r="0.75"/></g>
<rect x="490.6" y="230.8" width="50.4" height="25.8" fill="#fff" stroke="#b4b4b4" stroke-width="0.6"/>
<circle cx="497.6" cy="234.8" r="1.9" fill="none" stroke="#2f8fc8" stroke-width="0.95"/>
<rect x="496.75" y="239.95000000000002" width="1.7" height="1.7" fill="#111"/>
<path d="M497.6,244.8l2.2,3.7h-4.4z" fill="none" stroke="#e8b923" stroke-width="0.7"/>
<circle cx="497.6" cy="253.2" r="0.75" fill="#8a2aa8"/>
<text x="504" y="236.7" font-size="5.3" fill="#333" textLength="26.9" lengthAdjust="spacingAndGlyphs">Ground truth</text>
<text x="504" y="242.7" font-size="5.3" fill="#333" textLength="28.7" lengthAdjust="spacingAndGlyphs">Conventional</text>
<text x="504" y="248.9" font-size="5.3" fill="#333" textLength="30.9" lengthAdjust="spacingAndGlyphs">Phase Screen</text>
<text x="504" y="255.1" font-size="5.3" fill="#333" textLength="36.4" lengthAdjust="spacingAndGlyphs">Geometry-based</text>
</svg></body></html>
